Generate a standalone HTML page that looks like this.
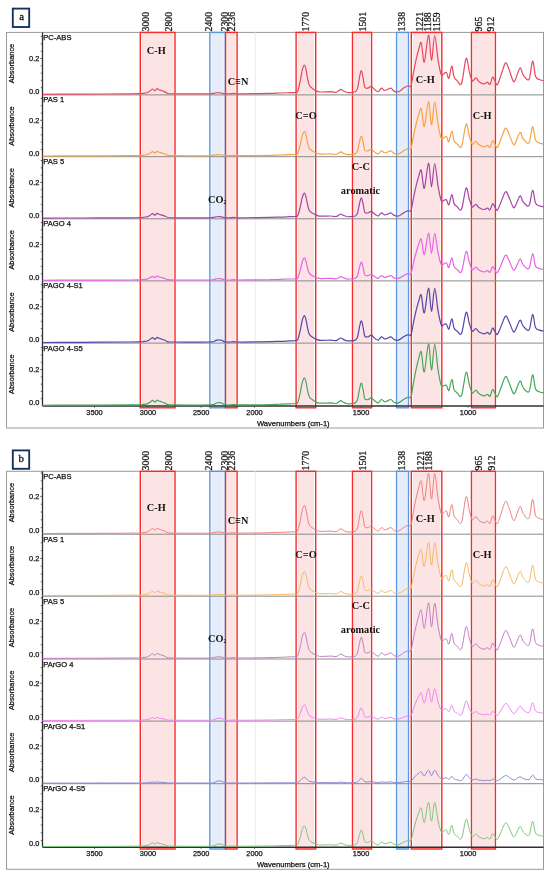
<!DOCTYPE html><html><head><meta charset="utf-8"><title>FTIR spectra</title><style>html,body{margin:0;padding:0;background:#fff;}svg{display:block;}</style></head><body><svg width="550" height="875" viewBox="0 0 550 875"><rect x="0" y="0" width="550" height="875" fill="#ffffff"/><rect x="12.8" y="8.6" width="16.4" height="18.4" fill="#fff" stroke="#15305f" stroke-width="1.85"/><text x="21.7" y="20.2" font-family="'Liberation Serif', 'Times New Roman', serif" font-size="10.8" text-anchor="middle" fill="#111" stroke="#111" stroke-width="0.3">a</text><rect x="6.5" y="32.4" width="537" height="395.6" fill="none" stroke="#999999" stroke-width="1"/><line x1="255.3" y1="32.4" x2="255.3" y2="406.0" stroke="#ececec" stroke-width="1"/><rect x="141.8" y="32.4" width="31.7" height="375.4" fill="#fde4e4"/><rect x="211.4" y="32.4" width="12.4" height="375.4" fill="#e6edf9"/><rect x="227.1" y="32.4" width="8.5" height="375.4" fill="#fde4e4"/><rect x="297.6" y="32.4" width="16.6" height="375.4" fill="#fde4e4"/><rect x="354.0" y="32.4" width="16.1" height="375.4" fill="#fde4e4"/><rect x="398.1" y="32.4" width="8.8" height="375.4" fill="#e6edf9"/><rect x="412.8" y="32.4" width="27.5" height="375.4" fill="#fde4e4"/><rect x="473.0" y="32.4" width="20.9" height="375.4" fill="#fde4e4"/><rect x="140.3" y="32.4" width="34.7" height="375.4" fill="none" stroke="#fa2a2a" stroke-width="1.4"/><rect x="209.9" y="32.4" width="15.4" height="375.4" fill="none" stroke="#5a96de" stroke-width="1.4"/><rect x="225.6" y="32.4" width="11.5" height="375.4" fill="none" stroke="#fa2a2a" stroke-width="1.4"/><rect x="296.1" y="32.4" width="19.6" height="375.4" fill="none" stroke="#fa2a2a" stroke-width="1.4"/><rect x="352.5" y="32.4" width="19.1" height="375.4" fill="none" stroke="#fa2a2a" stroke-width="1.4"/><rect x="396.6" y="32.4" width="11.8" height="375.4" fill="none" stroke="#5a96de" stroke-width="1.4"/><rect x="411.3" y="32.4" width="30.5" height="375.4" fill="none" stroke="#fa2a2a" stroke-width="1.4"/><rect x="471.5" y="32.4" width="23.9" height="375.4" fill="none" stroke="#fa2a2a" stroke-width="1.4"/><line x1="42.5" y1="94.9" x2="543.5" y2="94.9" stroke="#8a8a8a" stroke-width="1"/><line x1="42.5" y1="156.7" x2="543.5" y2="156.7" stroke="#8a8a8a" stroke-width="1"/><line x1="42.5" y1="218.8" x2="543.5" y2="218.8" stroke="#8a8a8a" stroke-width="1"/><line x1="42.5" y1="280.9" x2="543.5" y2="280.9" stroke="#8a8a8a" stroke-width="1"/><line x1="42.5" y1="343.1" x2="543.5" y2="343.1" stroke="#8a8a8a" stroke-width="1"/><line x1="42.5" y1="406.0" x2="543.5" y2="406.0" stroke="#303030" stroke-width="1.4"/><line x1="42.5" y1="32.4" x2="42.5" y2="406.0" stroke="#303030" stroke-width="1.3"/><line x1="40.7" y1="36.6" x2="42.5" y2="36.6" stroke="#444" stroke-width="0.8"/><line x1="40.7" y1="43.9" x2="42.5" y2="43.9" stroke="#444" stroke-width="0.8"/><line x1="40.7" y1="51.2" x2="42.5" y2="51.2" stroke="#444" stroke-width="0.8"/><line x1="40.1" y1="58.5" x2="42.5" y2="58.5" stroke="#444" stroke-width="0.8"/><line x1="40.7" y1="65.8" x2="42.5" y2="65.8" stroke="#444" stroke-width="0.8"/><line x1="40.7" y1="73.1" x2="42.5" y2="73.1" stroke="#444" stroke-width="0.8"/><line x1="40.7" y1="80.4" x2="42.5" y2="80.4" stroke="#444" stroke-width="0.8"/><line x1="40.7" y1="87.7" x2="42.5" y2="87.7" stroke="#444" stroke-width="0.8"/><text x="39.3" y="61.1" font-family="'Liberation Sans', Arial, sans-serif" font-size="7.4" text-anchor="end" fill="#111" stroke="#111" stroke-width="0.25">0.2</text><text x="39.3" y="93.7" font-family="'Liberation Sans', Arial, sans-serif" font-size="7.4" text-anchor="end" fill="#111" stroke="#111" stroke-width="0.25">0.0</text><text transform="translate(14.3 63.5) rotate(-90)" font-family="'Liberation Sans', Arial, sans-serif" font-size="7.4" text-anchor="middle" fill="#111" stroke="#111" stroke-width="0.25">Absorbance</text><text x="43.2" y="39.9" font-family="'Liberation Sans', Arial, sans-serif" font-size="7.6" fill="#111" stroke="#111" stroke-width="0.25">PC-ABS</text><line x1="40.7" y1="98.4" x2="42.5" y2="98.4" stroke="#444" stroke-width="0.8"/><line x1="40.7" y1="105.7" x2="42.5" y2="105.7" stroke="#444" stroke-width="0.8"/><line x1="40.7" y1="113.0" x2="42.5" y2="113.0" stroke="#444" stroke-width="0.8"/><line x1="40.1" y1="120.3" x2="42.5" y2="120.3" stroke="#444" stroke-width="0.8"/><line x1="40.7" y1="127.6" x2="42.5" y2="127.6" stroke="#444" stroke-width="0.8"/><line x1="40.7" y1="134.9" x2="42.5" y2="134.9" stroke="#444" stroke-width="0.8"/><line x1="40.7" y1="142.2" x2="42.5" y2="142.2" stroke="#444" stroke-width="0.8"/><line x1="40.7" y1="149.5" x2="42.5" y2="149.5" stroke="#444" stroke-width="0.8"/><text x="39.3" y="122.9" font-family="'Liberation Sans', Arial, sans-serif" font-size="7.4" text-anchor="end" fill="#111" stroke="#111" stroke-width="0.25">0.2</text><text x="39.3" y="155.5" font-family="'Liberation Sans', Arial, sans-serif" font-size="7.4" text-anchor="end" fill="#111" stroke="#111" stroke-width="0.25">0.0</text><text transform="translate(14.3 126.0) rotate(-90)" font-family="'Liberation Sans', Arial, sans-serif" font-size="7.4" text-anchor="middle" fill="#111" stroke="#111" stroke-width="0.25">Absorbance</text><text x="43.2" y="102.4" font-family="'Liberation Sans', Arial, sans-serif" font-size="7.6" fill="#111" stroke="#111" stroke-width="0.25">PAS 1</text><line x1="40.7" y1="160.5" x2="42.5" y2="160.5" stroke="#444" stroke-width="0.8"/><line x1="40.7" y1="167.8" x2="42.5" y2="167.8" stroke="#444" stroke-width="0.8"/><line x1="40.7" y1="175.1" x2="42.5" y2="175.1" stroke="#444" stroke-width="0.8"/><line x1="40.1" y1="182.4" x2="42.5" y2="182.4" stroke="#444" stroke-width="0.8"/><line x1="40.7" y1="189.7" x2="42.5" y2="189.7" stroke="#444" stroke-width="0.8"/><line x1="40.7" y1="197.0" x2="42.5" y2="197.0" stroke="#444" stroke-width="0.8"/><line x1="40.7" y1="204.3" x2="42.5" y2="204.3" stroke="#444" stroke-width="0.8"/><line x1="40.7" y1="211.6" x2="42.5" y2="211.6" stroke="#444" stroke-width="0.8"/><text x="39.3" y="185.0" font-family="'Liberation Sans', Arial, sans-serif" font-size="7.4" text-anchor="end" fill="#111" stroke="#111" stroke-width="0.25">0.2</text><text x="39.3" y="217.6" font-family="'Liberation Sans', Arial, sans-serif" font-size="7.4" text-anchor="end" fill="#111" stroke="#111" stroke-width="0.25">0.0</text><text transform="translate(14.3 187.8) rotate(-90)" font-family="'Liberation Sans', Arial, sans-serif" font-size="7.4" text-anchor="middle" fill="#111" stroke="#111" stroke-width="0.25">Absorbance</text><text x="43.2" y="164.2" font-family="'Liberation Sans', Arial, sans-serif" font-size="7.6" fill="#111" stroke="#111" stroke-width="0.25">PAS 5</text><line x1="40.7" y1="222.6" x2="42.5" y2="222.6" stroke="#444" stroke-width="0.8"/><line x1="40.7" y1="229.9" x2="42.5" y2="229.9" stroke="#444" stroke-width="0.8"/><line x1="40.7" y1="237.2" x2="42.5" y2="237.2" stroke="#444" stroke-width="0.8"/><line x1="40.1" y1="244.5" x2="42.5" y2="244.5" stroke="#444" stroke-width="0.8"/><line x1="40.7" y1="251.8" x2="42.5" y2="251.8" stroke="#444" stroke-width="0.8"/><line x1="40.7" y1="259.1" x2="42.5" y2="259.1" stroke="#444" stroke-width="0.8"/><line x1="40.7" y1="266.4" x2="42.5" y2="266.4" stroke="#444" stroke-width="0.8"/><line x1="40.7" y1="273.8" x2="42.5" y2="273.8" stroke="#444" stroke-width="0.8"/><text x="39.3" y="247.1" font-family="'Liberation Sans', Arial, sans-serif" font-size="7.4" text-anchor="end" fill="#111" stroke="#111" stroke-width="0.25">0.2</text><text x="39.3" y="279.8" font-family="'Liberation Sans', Arial, sans-serif" font-size="7.4" text-anchor="end" fill="#111" stroke="#111" stroke-width="0.25">0.0</text><text transform="translate(14.3 249.9) rotate(-90)" font-family="'Liberation Sans', Arial, sans-serif" font-size="7.4" text-anchor="middle" fill="#111" stroke="#111" stroke-width="0.25">Absorbance</text><text x="43.2" y="226.3" font-family="'Liberation Sans', Arial, sans-serif" font-size="7.6" fill="#111" stroke="#111" stroke-width="0.25">PAGO 4</text><line x1="40.7" y1="284.8" x2="42.5" y2="284.8" stroke="#444" stroke-width="0.8"/><line x1="40.7" y1="292.1" x2="42.5" y2="292.1" stroke="#444" stroke-width="0.8"/><line x1="40.7" y1="299.4" x2="42.5" y2="299.4" stroke="#444" stroke-width="0.8"/><line x1="40.1" y1="306.7" x2="42.5" y2="306.7" stroke="#444" stroke-width="0.8"/><line x1="40.7" y1="314.0" x2="42.5" y2="314.0" stroke="#444" stroke-width="0.8"/><line x1="40.7" y1="321.3" x2="42.5" y2="321.3" stroke="#444" stroke-width="0.8"/><line x1="40.7" y1="328.6" x2="42.5" y2="328.6" stroke="#444" stroke-width="0.8"/><line x1="40.7" y1="335.9" x2="42.5" y2="335.9" stroke="#444" stroke-width="0.8"/><text x="39.3" y="309.3" font-family="'Liberation Sans', Arial, sans-serif" font-size="7.4" text-anchor="end" fill="#111" stroke="#111" stroke-width="0.25">0.2</text><text x="39.3" y="341.9" font-family="'Liberation Sans', Arial, sans-serif" font-size="7.4" text-anchor="end" fill="#111" stroke="#111" stroke-width="0.25">0.0</text><text transform="translate(14.3 312.1) rotate(-90)" font-family="'Liberation Sans', Arial, sans-serif" font-size="7.4" text-anchor="middle" fill="#111" stroke="#111" stroke-width="0.25">Absorbance</text><text x="43.2" y="288.4" font-family="'Liberation Sans', Arial, sans-serif" font-size="7.6" fill="#111" stroke="#111" stroke-width="0.25">PAGO 4-S1</text><line x1="40.7" y1="347.7" x2="42.5" y2="347.7" stroke="#444" stroke-width="0.8"/><line x1="40.7" y1="355.0" x2="42.5" y2="355.0" stroke="#444" stroke-width="0.8"/><line x1="40.7" y1="362.3" x2="42.5" y2="362.3" stroke="#444" stroke-width="0.8"/><line x1="40.1" y1="369.6" x2="42.5" y2="369.6" stroke="#444" stroke-width="0.8"/><line x1="40.7" y1="376.9" x2="42.5" y2="376.9" stroke="#444" stroke-width="0.8"/><line x1="40.7" y1="384.2" x2="42.5" y2="384.2" stroke="#444" stroke-width="0.8"/><line x1="40.7" y1="391.5" x2="42.5" y2="391.5" stroke="#444" stroke-width="0.8"/><line x1="40.7" y1="398.8" x2="42.5" y2="398.8" stroke="#444" stroke-width="0.8"/><text x="39.3" y="372.2" font-family="'Liberation Sans', Arial, sans-serif" font-size="7.4" text-anchor="end" fill="#111" stroke="#111" stroke-width="0.25">0.2</text><text x="39.3" y="404.8" font-family="'Liberation Sans', Arial, sans-serif" font-size="7.4" text-anchor="end" fill="#111" stroke="#111" stroke-width="0.25">0.0</text><text transform="translate(14.3 374.2) rotate(-90)" font-family="'Liberation Sans', Arial, sans-serif" font-size="7.4" text-anchor="middle" fill="#111" stroke="#111" stroke-width="0.25">Absorbance</text><text x="43.2" y="350.6" font-family="'Liberation Sans', Arial, sans-serif" font-size="7.6" fill="#111" stroke="#111" stroke-width="0.25">PAGO 4-S5</text><path d="M42.5 94.3C45.4 94.3 50.4 94.2 60.0 94.1C69.6 94.1 88.3 94.1 100.0 94.0C111.7 94.0 123.3 93.9 130.0 93.8C136.7 93.8 137.8 93.8 140.0 93.7C142.2 93.6 141.8 93.5 143.0 93.3C144.2 93.1 145.8 93.1 147.0 92.7C148.2 92.3 149.1 91.5 150.0 90.9C150.9 90.3 151.9 89.0 152.7 89.0C153.5 89.0 154.2 91.0 154.9 90.9C155.6 90.9 156.3 88.9 157.0 88.7C157.7 88.5 158.2 89.4 159.0 89.7C159.8 90.0 161.0 90.3 162.0 90.7C163.0 91.1 164.0 91.4 165.0 91.9C166.0 92.4 166.3 93.2 168.0 93.5C169.7 93.8 169.7 93.7 175.0 93.8C180.3 93.9 194.2 93.9 200.0 93.9C205.8 93.9 208.0 93.9 210.0 93.8C212.0 93.7 211.3 93.7 212.0 93.6C212.7 93.5 213.3 93.4 214.0 93.3C214.7 93.2 215.3 92.9 216.0 92.8C216.7 92.7 217.3 92.6 218.0 92.6C218.7 92.6 219.3 92.7 220.0 92.8C220.7 92.8 221.3 92.9 222.0 93.1C222.7 93.2 223.3 93.5 224.0 93.6C224.7 93.8 225.0 93.8 226.0 93.8C227.0 93.8 228.7 93.9 230.0 93.8C231.3 93.7 232.7 93.4 234.0 93.4C235.3 93.4 234.5 93.8 238.0 93.8C241.5 93.9 249.7 93.8 255.0 93.7C260.3 93.6 265.8 93.5 270.0 93.4C274.2 93.3 276.7 93.1 280.0 93.0C283.3 92.9 287.4 92.7 290.0 92.6C292.6 92.5 294.0 92.6 295.3 92.3C296.6 92.1 297.0 93.1 297.8 91.1C298.6 89.1 299.6 83.8 300.4 80.3C301.1 76.8 301.6 72.6 302.3 70.1C303.0 67.6 303.8 65.2 304.4 65.2C305.0 65.2 305.6 68.0 306.1 70.1C306.6 72.2 306.9 75.2 307.4 77.7C307.9 80.2 308.4 83.4 309.3 85.3C310.2 87.2 311.8 87.9 313.1 88.9C314.4 89.9 315.6 90.6 316.9 91.1C318.2 91.6 318.4 91.9 320.7 92.0C323.0 92.1 328.3 91.7 330.9 91.7C333.4 91.8 334.7 92.5 336.0 92.3C337.3 92.2 337.7 91.3 338.5 90.8C339.3 90.3 340.0 89.4 340.8 89.4C341.6 89.4 342.4 90.4 343.3 90.9C344.2 91.4 345.2 92.0 346.2 92.3C347.2 92.6 348.0 92.7 349.5 92.6C351.0 92.5 354.0 92.4 355.3 91.7C356.6 91.0 356.8 90.7 357.5 88.3C358.2 85.9 358.9 80.2 359.5 77.3C360.1 74.4 360.8 70.5 361.4 70.7C362.0 70.9 362.6 75.5 363.2 78.3C363.8 81.1 364.0 85.7 364.8 87.3C365.6 88.9 366.9 88.3 368.0 88.1C369.1 88.0 370.0 86.1 371.2 86.4C372.4 86.7 373.8 88.9 375.0 89.8C376.2 90.7 377.1 92.0 378.2 91.7C379.3 91.4 380.4 88.3 381.4 88.1C382.4 87.9 383.4 90.1 384.3 90.4C385.2 90.7 386.0 90.2 387.1 89.8C388.2 89.4 389.7 87.9 390.9 88.1C392.1 88.3 392.8 90.5 394.1 91.1C395.4 91.7 396.9 92.2 398.5 91.7C400.1 91.2 402.1 89.1 403.6 88.1C405.1 87.2 406.4 86.3 407.5 86.0C408.6 85.7 409.5 86.5 410.1 86.4C410.7 86.4 410.7 87.6 411.2 85.7C411.7 83.9 412.4 78.8 413.0 75.3C413.6 71.8 414.3 68.1 415.0 64.8C415.7 61.6 416.3 58.6 417.0 55.8C417.7 53.1 418.3 50.5 419.0 48.3C419.7 46.2 420.4 40.6 421.3 42.9C422.2 45.2 423.1 63.4 424.3 62.1C425.5 60.8 427.3 35.4 428.5 35.1C429.7 34.8 430.5 60.4 431.5 60.5C432.5 60.6 433.6 35.5 434.7 35.5C435.8 35.5 437.0 53.7 438.1 60.3C439.2 66.9 440.5 72.8 441.3 75.1C442.1 77.4 442.4 74.8 443.2 74.3C444.0 73.9 445.4 71.8 446.4 72.4C447.3 73.1 448.0 79.3 448.9 78.2C449.8 77.2 450.9 66.3 451.8 66.1C452.7 65.9 453.1 74.5 454.0 76.9C454.9 79.3 455.9 79.6 457.2 80.7C458.5 81.8 460.1 87.0 461.6 83.3C463.1 79.6 464.8 60.3 466.1 58.4C467.4 56.5 468.4 68.2 469.3 71.8C470.2 75.4 471.2 78.6 471.8 80.1C472.4 81.6 472.3 81.1 473.0 80.7C473.7 80.3 474.9 77.7 475.9 77.8C476.9 77.9 477.5 80.4 478.8 81.4C480.1 82.4 482.4 83.8 483.9 83.9C485.3 84.0 486.5 82.1 487.5 82.2C488.5 82.3 489.1 85.2 490.0 84.3C490.9 83.5 491.8 77.7 492.6 77.1C493.4 76.5 494.0 79.4 494.8 80.7C495.6 82.0 496.3 85.5 497.3 84.8C498.3 84.1 499.2 79.9 500.6 76.3C502.0 72.7 504.1 64.3 505.4 63.0C506.7 61.7 507.3 65.4 508.6 68.3C509.9 71.3 511.9 78.8 513.0 80.7C514.1 82.7 514.0 82.1 515.2 80.0C516.4 77.9 518.7 68.8 520.0 67.9C521.3 67.1 521.7 73.0 523.2 74.9C524.7 76.8 527.4 81.6 529.0 79.3C530.6 77.0 531.5 61.6 532.6 61.1C533.7 60.6 534.4 73.2 535.5 76.3C536.6 79.4 537.9 78.8 539.2 79.5C540.5 80.2 542.8 80.5 543.5 80.7" fill="none" stroke="#e8485e" stroke-width="1.20" stroke-linejoin="round"/><path d="M42.5 156.1C45.4 156.1 50.4 156.0 60.0 155.9C69.6 155.9 88.3 155.9 100.0 155.8C111.7 155.8 123.3 155.7 130.0 155.7C136.7 155.6 137.8 155.7 140.0 155.6C142.2 155.5 141.8 155.4 143.0 155.2C144.2 155.1 145.8 155.1 147.0 154.7C148.2 154.4 149.1 153.7 150.0 153.2C150.9 152.7 151.9 151.6 152.7 151.6C153.5 151.6 154.2 153.3 154.9 153.2C155.6 153.2 156.3 151.5 157.0 151.3C157.7 151.2 158.2 151.9 159.0 152.2C159.8 152.5 161.0 152.7 162.0 153.0C163.0 153.4 164.0 153.7 165.0 154.1C166.0 154.5 166.3 155.2 168.0 155.4C169.7 155.7 169.7 155.6 175.0 155.7C180.3 155.7 194.2 155.8 200.0 155.8C205.8 155.8 208.0 155.7 210.0 155.7C212.0 155.6 211.3 155.6 212.0 155.5C212.7 155.4 213.3 155.3 214.0 155.2C214.7 155.1 215.3 154.9 216.0 154.8C216.7 154.7 217.3 154.7 218.0 154.6C218.7 154.6 219.3 154.7 220.0 154.8C220.7 154.8 221.3 154.9 222.0 155.0C222.7 155.1 223.3 155.4 224.0 155.5C224.7 155.6 225.0 155.6 226.0 155.7C227.0 155.7 228.7 155.7 230.0 155.7C231.3 155.6 232.7 155.3 234.0 155.3C235.3 155.3 234.5 155.6 238.0 155.7C241.5 155.7 249.7 155.6 255.0 155.6C260.3 155.5 265.8 155.4 270.0 155.3C274.2 155.2 276.7 155.1 280.0 155.0C283.3 154.9 287.4 154.8 290.0 154.7C292.6 154.6 294.0 154.6 295.3 154.4C296.6 154.2 297.0 155.1 297.8 153.4C298.6 151.7 299.6 147.2 300.4 144.2C301.1 141.2 301.6 137.7 302.3 135.5C303.0 133.4 303.8 131.4 304.4 131.4C305.0 131.4 305.6 133.8 306.1 135.5C306.6 137.3 306.9 139.8 307.4 142.0C307.9 144.1 308.4 146.9 309.3 148.4C310.2 150.0 311.8 150.7 313.1 151.5C314.4 152.3 315.6 152.9 316.9 153.4C318.2 153.8 318.4 154.1 320.7 154.1C323.0 154.2 328.3 153.8 330.9 153.9C333.4 153.9 334.7 154.5 336.0 154.4C337.3 154.3 337.7 153.5 338.5 153.1C339.3 152.7 340.0 151.9 340.8 151.9C341.6 151.9 342.4 152.8 343.3 153.2C344.2 153.6 345.2 154.2 346.2 154.4C347.2 154.6 348.0 154.7 349.5 154.7C351.0 154.6 354.0 154.5 355.3 153.9C356.6 153.3 356.8 153.0 357.5 151.0C358.2 149.0 358.9 144.1 359.5 141.7C360.1 139.2 360.8 135.9 361.4 136.0C362.0 136.2 362.6 140.1 363.2 142.5C363.8 144.9 364.0 148.8 364.8 150.2C365.6 151.5 366.9 151.0 368.0 150.8C369.1 150.7 370.0 149.1 371.2 149.4C372.4 149.6 373.8 151.5 375.0 152.3C376.2 153.0 377.1 154.1 378.2 153.9C379.3 153.6 380.4 151.0 381.4 150.8C382.4 150.6 383.4 152.5 384.3 152.8C385.2 153.0 386.0 152.6 387.1 152.3C388.2 151.9 389.7 150.6 390.9 150.8C392.1 151.0 392.8 152.9 394.1 153.4C395.4 153.9 396.9 154.3 398.5 153.9C400.1 153.5 402.1 151.7 403.6 150.8C405.1 150.0 406.4 149.2 407.5 148.9C408.6 148.6 409.5 149.2 410.1 149.1C410.7 149.0 410.7 150.1 411.2 148.3C411.7 146.6 412.4 141.9 413.0 138.6C413.6 135.4 414.3 131.9 415.0 129.0C415.7 126.0 416.3 123.2 417.0 120.7C417.7 118.1 418.3 115.8 419.0 113.8C419.7 111.8 420.4 106.7 421.3 108.8C422.2 110.9 423.1 127.7 424.3 126.5C425.5 125.3 427.3 101.9 428.5 101.6C429.7 101.4 430.5 124.9 431.5 125.0C432.5 125.1 433.6 102.0 434.7 102.0C435.8 102.0 437.0 118.7 438.1 124.8C439.2 130.9 440.5 136.4 441.3 138.6C442.1 140.8 442.4 138.3 443.2 138.0C444.0 137.7 445.4 136.0 446.4 136.6C447.3 137.2 448.0 142.7 448.9 141.8C449.8 140.8 450.9 131.2 451.8 131.0C452.7 130.8 453.1 138.4 454.0 140.6C454.9 142.8 455.9 143.0 457.2 144.0C458.5 144.9 460.1 149.6 461.6 146.3C463.1 143.0 464.8 125.9 466.1 124.1C467.4 122.4 468.4 132.9 469.3 136.1C470.2 139.3 471.2 142.1 471.8 143.5C472.4 144.8 472.3 144.3 473.0 144.0C473.7 143.7 474.9 141.3 475.9 141.4C476.9 141.5 477.5 143.7 478.8 144.6C480.1 145.5 482.4 146.7 483.9 146.8C485.3 147.0 486.5 145.3 487.5 145.3C488.5 145.4 489.1 148.0 490.0 147.2C490.9 146.4 491.8 141.3 492.6 140.8C493.4 140.3 494.0 142.9 494.8 144.0C495.6 145.1 496.3 148.3 497.3 147.6C498.3 147.0 499.2 143.3 500.6 140.1C502.0 136.8 504.1 129.4 505.4 128.2C506.7 127.1 507.3 130.3 508.6 133.0C509.9 135.6 511.9 142.3 513.0 144.0C514.1 145.7 514.0 145.3 515.2 143.4C516.4 141.5 518.7 133.4 520.0 132.6C521.3 131.8 521.7 137.1 523.2 138.8C524.7 140.5 527.4 144.8 529.0 142.8C530.6 140.7 531.5 127.0 532.6 126.6C533.7 126.1 534.4 137.4 535.5 140.1C536.6 142.8 537.9 142.3 539.2 142.9C540.5 143.6 542.8 143.8 543.5 144.0" fill="none" stroke="#f4a444" stroke-width="1.20" stroke-linejoin="round"/><path d="M42.5 218.2C45.4 218.2 50.4 218.1 60.0 218.0C69.6 218.0 88.3 218.0 100.0 217.9C111.7 217.9 123.3 217.8 130.0 217.8C136.7 217.7 137.8 217.8 140.0 217.7C142.2 217.6 141.8 217.5 143.0 217.3C144.2 217.2 145.8 217.2 147.0 216.8C148.2 216.5 149.1 215.8 150.0 215.3C150.9 214.7 151.9 213.6 152.7 213.6C153.5 213.6 154.2 215.3 154.9 215.3C155.6 215.2 156.3 213.6 157.0 213.4C157.7 213.2 158.2 214.0 159.0 214.2C159.8 214.5 161.0 214.8 162.0 215.1C163.0 215.4 164.0 215.7 165.0 216.1C166.0 216.5 166.3 217.2 168.0 217.5C169.7 217.8 169.7 217.7 175.0 217.8C180.3 217.8 194.2 217.9 200.0 217.9C205.8 217.9 208.0 217.8 210.0 217.8C212.0 217.7 211.3 217.7 212.0 217.6C212.7 217.5 213.3 217.4 214.0 217.3C214.7 217.2 215.3 216.9 216.0 216.8C216.7 216.7 217.3 216.6 218.0 216.6C218.7 216.5 219.3 216.6 220.0 216.7C220.7 216.8 221.3 216.8 222.0 216.9C222.7 217.1 223.3 217.4 224.0 217.6C224.7 217.7 225.0 217.7 226.0 217.8C227.0 217.8 228.7 217.8 230.0 217.8C231.3 217.7 232.7 217.4 234.0 217.4C235.3 217.4 234.5 217.7 238.0 217.8C241.5 217.8 249.7 217.7 255.0 217.7C260.3 217.6 265.8 217.5 270.0 217.4C274.2 217.3 276.7 217.2 280.0 217.1C283.3 217.0 287.4 216.8 290.0 216.7C292.6 216.6 294.0 216.7 295.3 216.5C296.6 216.3 297.0 217.2 297.8 215.4C298.6 213.7 299.6 209.2 300.4 206.2C301.1 203.2 301.6 199.6 302.3 197.4C303.0 195.2 303.8 193.2 304.4 193.2C305.0 193.2 305.6 195.6 306.1 197.4C306.6 199.2 306.9 201.7 307.4 203.9C307.9 206.1 308.4 208.9 309.3 210.5C310.2 212.1 311.8 212.7 313.1 213.6C314.4 214.4 315.6 215.0 316.9 215.4C318.2 215.9 318.4 216.1 320.7 216.2C323.0 216.3 328.3 215.9 330.9 216.0C333.4 216.0 334.7 216.6 336.0 216.5C337.3 216.4 337.7 215.6 338.5 215.2C339.3 214.8 340.0 214.0 340.8 214.0C341.6 214.0 342.4 214.9 343.3 215.3C344.2 215.7 345.2 216.2 346.2 216.5C347.2 216.7 348.0 216.8 349.5 216.7C351.0 216.7 354.0 216.6 355.3 216.0C356.6 215.3 356.8 215.1 357.5 213.0C358.2 211.0 358.9 206.1 359.5 203.6C360.1 201.1 360.8 197.8 361.4 197.9C362.0 198.0 362.6 202.1 363.2 204.4C363.8 206.8 364.0 210.8 364.8 212.2C365.6 213.6 366.9 213.0 368.0 212.9C369.1 212.7 370.0 211.2 371.2 211.4C372.4 211.6 373.8 213.6 375.0 214.3C376.2 215.1 377.1 216.2 378.2 216.0C379.3 215.7 380.4 213.1 381.4 212.9C382.4 212.7 383.4 214.6 384.3 214.8C385.2 215.1 386.0 214.7 387.1 214.3C388.2 214.0 389.7 212.7 390.9 212.9C392.1 213.1 392.8 214.9 394.1 215.4C395.4 216.0 396.9 216.4 398.5 216.0C400.1 215.5 402.1 213.7 403.6 212.9C405.1 212.0 406.4 211.2 407.5 210.9C408.6 210.6 409.5 211.2 410.1 211.1C410.7 211.0 410.7 212.1 411.2 210.4C411.7 208.6 412.4 203.8 413.0 200.5C413.6 197.3 414.3 193.8 415.0 190.8C415.7 187.7 416.3 185.0 417.0 182.4C417.7 179.8 418.3 177.4 419.0 175.4C419.7 173.4 420.4 168.3 421.3 170.4C422.2 172.5 423.1 189.5 424.3 188.3C425.5 187.0 427.3 163.4 428.5 163.1C429.7 162.9 430.5 186.7 431.5 186.8C432.5 186.8 433.6 163.5 434.7 163.5C435.8 163.5 437.0 180.4 438.1 186.6C439.2 192.8 440.5 198.4 441.3 200.7C442.1 203.0 442.4 200.7 443.2 200.6C444.0 200.4 445.4 199.1 446.4 199.8C447.3 200.5 448.0 205.6 448.9 204.7C449.8 203.8 450.9 194.7 451.8 194.5C452.7 194.3 453.1 201.5 454.0 203.6C454.9 205.6 455.9 205.9 457.2 206.8C458.5 207.7 460.1 212.1 461.6 209.0C463.1 205.8 464.8 189.7 466.1 188.0C467.4 186.4 468.4 196.3 469.3 199.3C470.2 202.3 471.2 205.0 471.8 206.3C472.4 207.5 472.3 207.1 473.0 206.8C473.7 206.5 474.9 204.2 475.9 204.3C476.9 204.4 477.5 206.5 478.8 207.4C480.1 208.2 482.4 209.4 483.9 209.5C485.3 209.6 486.5 208.0 487.5 208.0C488.5 208.1 489.1 210.5 490.0 209.8C490.9 209.1 491.8 204.3 492.6 203.8C493.4 203.2 494.0 205.7 494.8 206.8C495.6 207.9 496.3 210.8 497.3 210.2C498.3 209.6 499.2 206.1 500.6 203.1C502.0 200.0 504.1 193.0 505.4 191.9C506.7 190.8 507.3 193.9 508.6 196.4C509.9 198.8 511.9 205.1 513.0 206.8C514.1 208.4 514.0 208.0 515.2 206.2C516.4 204.4 518.7 196.7 520.0 196.0C521.3 195.3 521.7 200.3 523.2 201.9C524.7 203.5 527.4 207.5 529.0 205.6C530.6 203.7 531.5 190.7 532.6 190.3C533.7 189.9 534.4 200.5 535.5 203.1C536.6 205.7 537.9 205.2 539.2 205.8C540.5 206.4 542.8 206.6 543.5 206.8" fill="none" stroke="#a344a6" stroke-width="1.20" stroke-linejoin="round"/><path d="M42.5 280.3C45.4 280.3 50.4 280.2 60.0 280.2C69.6 280.2 88.3 280.2 100.0 280.1C111.7 280.1 123.3 280.0 130.0 280.0C136.7 279.9 137.8 280.0 140.0 279.9C142.2 279.8 141.8 279.7 143.0 279.6C144.2 279.5 145.8 279.4 147.0 279.1C148.2 278.8 149.1 278.2 150.0 277.7C150.9 277.3 151.9 276.3 152.7 276.3C153.5 276.3 154.2 277.8 154.9 277.7C155.6 277.7 156.3 276.2 157.0 276.0C157.7 275.9 158.2 276.6 159.0 276.8C159.8 277.1 161.0 277.3 162.0 277.6C163.0 277.9 164.0 278.1 165.0 278.5C166.0 278.9 166.3 279.5 168.0 279.7C169.7 280.0 169.7 279.9 175.0 280.0C180.3 280.0 194.2 280.0 200.0 280.0C205.8 280.0 208.0 280.0 210.0 280.0C212.0 279.9 211.3 279.9 212.0 279.8C212.7 279.7 213.3 279.7 214.0 279.5C214.7 279.4 215.3 279.1 216.0 278.9C216.7 278.8 217.3 278.6 218.0 278.6C218.7 278.5 219.3 278.7 220.0 278.7C220.7 278.8 221.3 278.8 222.0 278.9C222.7 279.1 223.3 279.5 224.0 279.7C224.7 279.9 225.0 279.9 226.0 280.0C227.0 280.0 228.7 280.0 230.0 280.0C231.3 279.9 232.7 279.7 234.0 279.7C235.3 279.7 234.5 279.9 238.0 280.0C241.5 280.0 249.7 279.9 255.0 279.9C260.3 279.8 265.8 279.7 270.0 279.7C274.2 279.6 276.7 279.5 280.0 279.3C283.3 279.2 287.4 279.1 290.0 279.0C292.6 279.0 294.0 279.0 295.3 278.8C296.6 278.6 297.0 279.4 297.8 277.9C298.6 276.3 299.6 272.3 300.4 269.6C301.1 266.9 301.6 263.7 302.3 261.7C303.0 259.8 303.8 257.9 304.4 257.9C305.0 257.9 305.6 260.1 306.1 261.7C306.6 263.3 306.9 265.6 307.4 267.6C307.9 269.5 308.4 272.0 309.3 273.4C310.2 274.9 311.8 275.4 313.1 276.2C314.4 276.9 315.6 277.5 316.9 277.9C318.2 278.3 318.4 278.5 320.7 278.6C323.0 278.7 328.3 278.3 330.9 278.3C333.4 278.4 334.7 278.9 336.0 278.8C337.3 278.7 337.7 278.0 338.5 277.7C339.3 277.3 340.0 276.6 340.8 276.6C341.6 276.6 342.4 277.4 343.3 277.7C344.2 278.1 345.2 278.6 346.2 278.8C347.2 279.0 348.0 279.1 349.5 279.0C351.0 279.0 354.0 278.9 355.3 278.3C356.6 277.8 356.8 277.6 357.5 275.7C358.2 273.9 358.9 269.5 359.5 267.3C360.1 265.0 360.8 262.0 361.4 262.2C362.0 262.3 362.6 265.9 363.2 268.0C363.8 270.2 364.0 273.7 364.8 275.0C365.6 276.2 366.9 275.7 368.0 275.6C369.1 275.5 370.0 274.0 371.2 274.3C372.4 274.5 373.8 276.2 375.0 276.9C376.2 277.6 377.1 278.6 378.2 278.3C379.3 278.1 380.4 275.7 381.4 275.6C382.4 275.4 383.4 277.1 384.3 277.3C385.2 277.6 386.0 277.2 387.1 276.9C388.2 276.6 389.7 275.4 390.9 275.6C392.1 275.7 392.8 277.4 394.1 277.9C395.4 278.3 396.9 278.7 398.5 278.3C400.1 278.0 402.1 276.3 403.6 275.6C405.1 274.8 406.4 274.1 407.5 273.9C408.6 273.7 409.5 274.2 410.1 274.1C410.7 274.1 410.7 275.0 411.2 273.5C411.7 272.0 412.4 267.9 413.0 265.1C413.6 262.4 414.3 259.3 415.0 256.7C415.7 254.1 416.3 251.7 417.0 249.5C417.7 247.3 418.3 245.3 419.0 243.5C419.7 241.8 420.4 237.4 421.3 239.2C422.2 241.1 423.1 255.6 424.3 254.6C425.5 253.5 427.3 233.2 428.5 233.0C429.7 232.8 430.5 253.3 431.5 253.3C432.5 253.4 433.6 233.3 434.7 233.3C435.8 233.3 437.0 247.9 438.1 253.1C439.2 258.4 440.5 263.1 441.3 265.0C442.1 266.9 442.4 264.7 443.2 264.3C444.0 264.0 445.4 262.3 446.4 262.8C447.3 263.3 448.0 268.3 448.9 267.5C449.8 266.6 450.9 258.0 451.8 257.8C452.7 257.6 453.1 264.5 454.0 266.4C454.9 268.4 455.9 268.6 457.2 269.5C458.5 270.3 460.1 274.5 461.6 271.5C463.1 268.6 464.8 253.2 466.1 251.6C467.4 250.1 468.4 259.5 469.3 262.3C470.2 265.2 471.2 267.8 471.8 269.0C472.4 270.2 472.3 269.8 473.0 269.5C473.7 269.2 474.9 267.1 475.9 267.1C476.9 267.2 477.5 269.2 478.8 270.0C480.1 270.8 482.4 271.9 483.9 272.0C485.3 272.1 486.5 270.6 487.5 270.7C488.5 270.7 489.1 273.0 490.0 272.3C490.9 271.7 491.8 267.1 492.6 266.6C493.4 266.1 494.0 268.4 494.8 269.5C495.6 270.5 496.3 273.3 497.3 272.7C498.3 272.2 499.2 268.9 500.6 265.9C502.0 263.0 504.1 256.4 505.4 255.3C506.7 254.2 507.3 257.2 508.6 259.5C509.9 261.9 511.9 267.9 513.0 269.5C514.1 271.0 514.0 270.6 515.2 268.9C516.4 267.2 518.7 259.9 520.0 259.2C521.3 258.5 521.7 263.3 523.2 264.8C524.7 266.3 527.4 270.2 529.0 268.3C530.6 266.5 531.5 254.2 532.6 253.8C533.7 253.4 534.4 263.5 535.5 265.9C536.6 268.4 537.9 267.9 539.2 268.5C540.5 269.1 542.8 269.3 543.5 269.5" fill="none" stroke="#e864e8" stroke-width="1.20" stroke-linejoin="round"/><path d="M42.5 342.5C45.4 342.5 50.4 342.4 60.0 342.3C69.6 342.3 88.3 342.3 100.0 342.2C111.7 342.2 123.3 342.1 130.0 342.0C136.7 342.0 137.8 342.0 140.0 341.9C142.2 341.9 141.8 341.7 143.0 341.6C144.2 341.4 145.8 341.4 147.0 341.0C148.2 340.7 149.1 339.9 150.0 339.4C150.9 338.8 151.9 337.6 152.7 337.6C153.5 337.6 154.2 339.4 154.9 339.4C155.6 339.3 156.3 337.5 157.0 337.3C157.7 337.2 158.2 338.0 159.0 338.3C159.8 338.6 161.0 338.9 162.0 339.2C163.0 339.5 164.0 339.9 165.0 340.3C166.0 340.7 166.3 341.5 168.0 341.8C169.7 342.1 169.7 342.0 175.0 342.0C180.3 342.1 194.2 342.1 200.0 342.1C205.8 342.1 208.0 342.1 210.0 342.0C212.0 342.0 211.3 341.9 212.0 341.9C212.7 341.8 213.3 341.7 214.0 341.5C214.7 341.2 215.3 340.7 216.0 340.4C216.7 340.2 217.3 339.9 218.0 339.8C218.7 339.8 219.3 340.0 220.0 340.1C220.7 340.2 221.3 340.0 222.0 340.3C222.7 340.5 223.3 341.3 224.0 341.6C224.7 341.9 225.0 341.9 226.0 342.0C227.0 342.1 228.7 342.1 230.0 342.0C231.3 342.0 232.7 341.7 234.0 341.7C235.3 341.7 234.5 342.0 238.0 342.0C241.5 342.1 249.7 342.0 255.0 341.9C260.3 341.9 265.8 341.8 270.0 341.7C274.2 341.6 276.7 341.4 280.0 341.3C283.3 341.2 287.4 341.0 290.0 340.9C292.6 340.8 294.0 340.9 295.3 340.7C296.6 340.4 297.0 341.4 297.8 339.6C298.6 337.7 299.6 332.8 300.4 329.6C301.1 326.4 301.6 322.6 302.3 320.2C303.0 317.9 303.8 315.7 304.4 315.7C305.0 315.7 305.6 318.3 306.1 320.2C306.6 322.2 306.9 324.9 307.4 327.2C307.9 329.6 308.4 332.5 309.3 334.2C310.2 335.9 311.8 336.6 313.1 337.5C314.4 338.4 315.6 339.1 316.9 339.6C318.2 340.0 318.4 340.3 320.7 340.4C323.0 340.5 328.3 340.1 330.9 340.1C333.4 340.2 334.7 340.8 336.0 340.7C337.3 340.5 337.7 339.7 338.5 339.3C339.3 338.8 340.0 338.0 340.8 338.0C341.6 338.0 342.4 338.9 343.3 339.4C344.2 339.8 345.2 340.4 346.2 340.7C347.2 340.9 348.0 341.0 349.5 340.9C351.0 340.8 354.0 340.8 355.3 340.1C356.6 339.4 356.8 339.2 357.5 337.0C358.2 334.8 358.9 329.6 359.5 326.9C360.1 324.2 360.8 320.6 361.4 320.8C362.0 320.9 362.6 325.2 363.2 327.8C363.8 330.3 364.0 334.6 364.8 336.1C365.6 337.6 366.9 336.9 368.0 336.8C369.1 336.7 370.0 335.0 371.2 335.2C372.4 335.5 373.8 337.5 375.0 338.4C376.2 339.2 377.1 340.4 378.2 340.1C379.3 339.8 380.4 337.0 381.4 336.8C382.4 336.6 383.4 338.7 384.3 338.9C385.2 339.2 386.0 338.7 387.1 338.4C388.2 338.0 389.7 336.6 390.9 336.8C392.1 337.0 392.8 339.0 394.1 339.6C395.4 340.1 396.9 340.6 398.5 340.1C400.1 339.6 402.1 337.7 403.6 336.8C405.1 335.9 406.4 335.1 407.5 334.9C408.6 334.6 409.5 335.3 410.1 335.2C410.7 335.2 410.7 336.3 411.2 334.6C411.7 332.9 412.4 328.2 413.0 325.0C413.6 321.8 414.3 318.4 415.0 315.4C415.7 312.4 416.3 309.6 417.0 307.1C417.7 304.5 418.3 302.2 419.0 300.2C419.7 298.2 420.4 293.1 421.3 295.2C422.2 297.3 423.1 314.1 424.3 312.9C425.5 311.7 427.3 288.3 428.5 288.0C429.7 287.8 430.5 311.3 431.5 311.4C432.5 311.5 433.6 288.4 434.7 288.4C435.8 288.4 437.0 305.1 438.1 311.2C439.2 317.3 440.5 322.9 441.3 325.2C442.1 327.5 442.4 325.1 443.2 325.0C444.0 324.8 445.4 323.4 446.4 324.1C447.3 324.8 448.0 329.9 448.9 329.0C449.8 328.1 450.9 319.0 451.8 318.8C452.7 318.6 453.1 325.8 454.0 327.9C454.9 329.9 455.9 330.2 457.2 331.1C458.5 332.0 460.1 336.4 461.6 333.3C463.1 330.1 464.8 314.0 466.1 312.3C467.4 310.7 468.4 320.6 469.3 323.6C470.2 326.6 471.2 329.3 471.8 330.6C472.4 331.8 472.3 331.4 473.0 331.1C473.7 330.8 474.9 328.5 475.9 328.6C476.9 328.7 477.5 330.8 478.8 331.7C480.1 332.5 482.4 333.7 483.9 333.8C485.3 333.9 486.5 332.3 487.5 332.3C488.5 332.4 489.1 334.8 490.0 334.1C490.9 333.4 491.8 328.6 492.6 328.1C493.4 327.5 494.0 330.0 494.8 331.1C495.6 332.2 496.3 335.1 497.3 334.5C498.3 333.9 499.2 330.4 500.6 327.4C502.0 324.3 504.1 317.3 505.4 316.2C506.7 315.1 507.3 318.2 508.6 320.7C509.9 323.1 511.9 329.4 513.0 331.1C514.1 332.7 514.0 332.3 515.2 330.5C516.4 328.7 518.7 321.0 520.0 320.3C521.3 319.6 521.7 324.6 523.2 326.2C524.7 327.8 527.4 331.8 529.0 329.9C530.6 328.0 531.5 315.0 532.6 314.6C533.7 314.2 534.4 324.8 535.5 327.4C536.6 330.0 537.9 329.5 539.2 330.1C540.5 330.7 542.8 330.9 543.5 331.1" fill="none" stroke="#5646a6" stroke-width="1.20" stroke-linejoin="round"/><path d="M42.5 405.4C45.4 405.4 50.4 405.3 60.0 405.2C69.6 405.2 88.3 405.2 100.0 405.1C111.7 405.1 123.3 405.0 130.0 404.9C136.7 404.9 137.8 404.9 140.0 404.8C142.2 404.8 141.8 404.6 143.0 404.4C144.2 404.3 145.8 404.3 147.0 403.9C148.2 403.5 149.1 402.8 150.0 402.2C150.9 401.6 151.9 400.4 152.7 400.4C153.5 400.4 154.2 402.2 154.9 402.2C155.6 402.1 156.3 400.3 157.0 400.1C157.7 399.9 158.2 400.7 159.0 401.0C159.8 401.3 161.0 401.6 162.0 402.0C163.0 402.3 164.0 402.7 165.0 403.1C166.0 403.6 166.3 404.3 168.0 404.6C169.7 404.9 169.7 404.9 175.0 404.9C180.3 405.0 194.2 405.0 200.0 405.0C205.8 405.0 208.0 405.0 210.0 404.9C212.0 404.9 211.3 404.8 212.0 404.7C212.7 404.6 213.3 404.6 214.0 404.3C214.7 404.1 215.3 403.5 216.0 403.2C216.7 402.9 217.3 402.6 218.0 402.5C218.7 402.4 219.3 402.7 220.0 402.8C220.7 402.9 221.3 402.7 222.0 403.0C222.7 403.2 223.3 404.1 224.0 404.4C224.7 404.7 225.0 404.8 226.0 404.9C227.0 405.0 228.7 405.0 230.0 404.9C231.3 404.9 232.7 404.5 234.0 404.5C235.3 404.5 234.5 404.9 238.0 404.9C241.5 405.0 249.7 404.9 255.0 404.8C260.3 404.8 265.8 404.7 270.0 404.5C274.2 404.4 276.7 404.3 280.0 404.2C283.3 404.0 287.4 403.9 290.0 403.8C292.6 403.7 294.0 403.7 295.3 403.5C296.6 403.3 297.0 404.3 297.8 402.4C298.6 400.5 299.6 395.4 300.4 392.1C301.1 388.8 301.6 384.8 302.3 382.4C303.0 380.0 303.8 377.8 304.4 377.8C305.0 377.8 305.6 380.4 306.1 382.4C306.6 384.4 306.9 387.2 307.4 389.6C307.9 392.0 308.4 395.1 309.3 396.8C310.2 398.6 311.8 399.4 313.1 400.3C314.4 401.2 315.6 401.9 316.9 402.4C318.2 402.9 318.4 403.1 320.7 403.2C323.0 403.3 328.3 402.9 330.9 402.9C333.4 403.0 334.7 403.6 336.0 403.5C337.3 403.4 337.7 402.5 338.5 402.1C339.3 401.6 340.0 400.7 340.8 400.7C341.6 400.8 342.4 401.7 343.3 402.2C344.2 402.6 345.2 403.2 346.2 403.5C347.2 403.8 348.0 403.9 349.5 403.8C351.0 403.7 354.0 403.6 355.3 402.9C356.6 402.2 356.8 402.0 357.5 399.7C358.2 397.4 358.9 392.0 359.5 389.2C360.1 386.5 360.8 382.8 361.4 383.0C362.0 383.1 362.6 387.6 363.2 390.2C363.8 392.8 364.0 397.2 364.8 398.8C365.6 400.3 366.9 399.7 368.0 399.5C369.1 399.4 370.0 397.6 371.2 397.9C372.4 398.2 373.8 400.3 375.0 401.1C376.2 402.0 377.1 403.2 378.2 402.9C379.3 402.7 380.4 399.7 381.4 399.5C382.4 399.3 383.4 401.4 384.3 401.7C385.2 402.0 386.0 401.5 387.1 401.1C388.2 400.8 389.7 399.3 390.9 399.5C392.1 399.7 392.8 401.8 394.1 402.4C395.4 402.9 396.9 403.4 398.5 402.9C400.1 402.5 402.1 400.4 403.6 399.5C405.1 398.6 406.4 397.7 407.5 397.4C408.6 397.0 409.5 397.6 410.1 397.5C410.7 397.4 410.7 398.6 411.2 396.7C411.7 394.7 412.4 389.3 413.0 385.6C413.6 382.0 414.3 378.1 415.0 374.7C415.7 371.3 416.3 368.2 417.0 365.4C417.7 362.5 418.3 359.8 419.0 357.6C419.7 355.3 420.4 349.6 421.3 351.9C422.2 354.3 423.1 373.3 424.3 371.9C425.5 370.6 427.3 344.1 428.5 343.8C429.7 343.6 430.5 370.2 431.5 370.2C432.5 370.3 433.6 344.3 434.7 344.2C435.8 344.2 437.0 363.1 438.1 370.0C439.2 377.0 440.5 383.3 441.3 385.9C442.1 388.6 442.4 386.0 443.2 385.9C444.0 385.8 445.4 384.5 446.4 385.3C447.3 386.0 448.0 391.6 448.9 390.6C449.8 389.6 450.9 379.7 451.8 379.5C452.7 379.3 453.1 387.2 454.0 389.4C454.9 391.6 455.9 391.9 457.2 392.9C458.5 393.9 460.1 398.7 461.6 395.3C463.1 391.9 464.8 374.1 466.1 372.4C467.4 370.6 468.4 381.4 469.3 384.7C470.2 388.0 471.2 391.0 471.8 392.3C472.4 393.7 472.3 393.2 473.0 392.9C473.7 392.5 474.9 390.1 475.9 390.2C476.9 390.3 477.5 392.6 478.8 393.5C480.1 394.5 482.4 395.7 483.9 395.8C485.3 396.0 486.5 394.2 487.5 394.3C488.5 394.3 489.1 397.0 490.0 396.2C490.9 395.4 491.8 390.1 492.6 389.6C493.4 389.0 494.0 391.7 494.8 392.9C495.6 394.1 496.3 397.3 497.3 396.7C498.3 396.0 499.2 392.2 500.6 388.8C502.0 385.5 504.1 377.8 505.4 376.6C506.7 375.4 507.3 378.8 508.6 381.5C509.9 384.2 511.9 391.1 513.0 392.9C514.1 394.7 514.0 394.2 515.2 392.2C516.4 390.3 518.7 381.9 520.0 381.1C521.3 380.3 521.7 385.8 523.2 387.6C524.7 389.3 527.4 393.7 529.0 391.6C530.6 389.5 531.5 375.3 532.6 374.9C533.7 374.4 534.4 386.0 535.5 388.8C536.6 391.7 537.9 391.1 539.2 391.8C540.5 392.5 542.8 392.7 543.5 392.9" fill="none" stroke="#48a65a" stroke-width="1.20" stroke-linejoin="round"/><line x1="94.5" y1="406.0" x2="94.5" y2="407.8" stroke="#444" stroke-width="0.7"/><text x="94.5" y="415.2" font-family="'Liberation Sans', Arial, sans-serif" font-size="7.4" text-anchor="middle" fill="#111" stroke="#111" stroke-width="0.25">3500</text><line x1="147.9" y1="406.0" x2="147.9" y2="407.8" stroke="#444" stroke-width="0.7"/><text x="147.9" y="415.2" font-family="'Liberation Sans', Arial, sans-serif" font-size="7.4" text-anchor="middle" fill="#111" stroke="#111" stroke-width="0.25">3000</text><line x1="201.2" y1="406.0" x2="201.2" y2="407.8" stroke="#444" stroke-width="0.7"/><text x="201.2" y="415.2" font-family="'Liberation Sans', Arial, sans-serif" font-size="7.4" text-anchor="middle" fill="#111" stroke="#111" stroke-width="0.25">2500</text><line x1="254.5" y1="406.0" x2="254.5" y2="407.8" stroke="#444" stroke-width="0.7"/><text x="254.5" y="415.2" font-family="'Liberation Sans', Arial, sans-serif" font-size="7.4" text-anchor="middle" fill="#111" stroke="#111" stroke-width="0.25">2000</text><line x1="361.1" y1="406.0" x2="361.1" y2="407.8" stroke="#444" stroke-width="0.7"/><text x="361.1" y="415.2" font-family="'Liberation Sans', Arial, sans-serif" font-size="7.4" text-anchor="middle" fill="#111" stroke="#111" stroke-width="0.25">1500</text><line x1="468.1" y1="406.0" x2="468.1" y2="407.8" stroke="#444" stroke-width="0.7"/><text x="468.1" y="415.2" font-family="'Liberation Sans', Arial, sans-serif" font-size="7.4" text-anchor="middle" fill="#111" stroke="#111" stroke-width="0.25">1000</text><text x="293.3" y="426.2" font-family="'Liberation Sans', Arial, sans-serif" font-size="7.6" text-anchor="middle" fill="#111" stroke="#111" stroke-width="0.25">Wavenumbers (cm-1)</text><text transform="translate(149.0 31.5) rotate(-90)" font-family="'Liberation Serif', 'Times New Roman', serif" font-size="9.8" fill="#111" stroke="#111" stroke-width="0.25">3000</text><text transform="translate(171.7 31.5) rotate(-90)" font-family="'Liberation Serif', 'Times New Roman', serif" font-size="9.8" fill="#111" stroke="#111" stroke-width="0.25">2800</text><text transform="translate(212.2 31.5) rotate(-90)" font-family="'Liberation Serif', 'Times New Roman', serif" font-size="9.8" fill="#111" stroke="#111" stroke-width="0.25">2400</text><text transform="translate(227.8 31.5) rotate(-90)" font-family="'Liberation Serif', 'Times New Roman', serif" font-size="9.8" fill="#111" stroke="#111" stroke-width="0.25">2300</text><text transform="translate(235.4 31.5) rotate(-90)" font-family="'Liberation Serif', 'Times New Roman', serif" font-size="9.8" fill="#111" stroke="#111" stroke-width="0.25">2236</text><text transform="translate(309.3 31.5) rotate(-90)" font-family="'Liberation Serif', 'Times New Roman', serif" font-size="9.8" fill="#111" stroke="#111" stroke-width="0.25">1770</text><text transform="translate(365.8 31.5) rotate(-90)" font-family="'Liberation Serif', 'Times New Roman', serif" font-size="9.8" fill="#111" stroke="#111" stroke-width="0.25">1501</text><text transform="translate(405.0 31.5) rotate(-90)" font-family="'Liberation Serif', 'Times New Roman', serif" font-size="9.8" fill="#111" stroke="#111" stroke-width="0.25">1338</text><text transform="translate(423.3 31.5) rotate(-90)" font-family="'Liberation Serif', 'Times New Roman', serif" font-size="9.8" fill="#111" stroke="#111" stroke-width="0.25">1221</text><text transform="translate(431.3 31.5) rotate(-90)" font-family="'Liberation Serif', 'Times New Roman', serif" font-size="9.8" fill="#111" stroke="#111" stroke-width="0.25">1188</text><text transform="translate(439.7 31.5) rotate(-90)" font-family="'Liberation Serif', 'Times New Roman', serif" font-size="9.8" fill="#111" stroke="#111" stroke-width="0.25">1159</text><text transform="translate(481.5 31.5) rotate(-90)" font-family="'Liberation Serif', 'Times New Roman', serif" font-size="9.8" fill="#111" stroke="#111" stroke-width="0.25">965</text><text transform="translate(494.0 31.5) rotate(-90)" font-family="'Liberation Serif', 'Times New Roman', serif" font-size="9.8" fill="#111" stroke="#111" stroke-width="0.25">912</text><text x="156.3" y="54.0" font-family="'Liberation Serif', 'Times New Roman', serif" font-size="10.3" font-weight="bold" text-anchor="middle" fill="#111">C-H</text><text x="238.2" y="85.4" font-family="'Liberation Serif', 'Times New Roman', serif" font-size="10.3" font-weight="bold" text-anchor="middle" fill="#111">C≡N</text><text x="306.0" y="119.2" font-family="'Liberation Serif', 'Times New Roman', serif" font-size="10.3" font-weight="bold" text-anchor="middle" fill="#111">C=O</text><text x="360.8" y="170.1" font-family="'Liberation Serif', 'Times New Roman', serif" font-size="10.3" font-weight="bold" text-anchor="middle" fill="#111">C-C</text><text x="360.5" y="193.9" font-family="'Liberation Serif', 'Times New Roman', serif" font-size="10.3" font-weight="bold" text-anchor="middle" fill="#111">aromatic</text><text x="425.3" y="83.4" font-family="'Liberation Serif', 'Times New Roman', serif" font-size="10.3" font-weight="bold" text-anchor="middle" fill="#111">C-H</text><text x="482.2" y="118.9" font-family="'Liberation Serif', 'Times New Roman', serif" font-size="10.3" font-weight="bold" text-anchor="middle" fill="#111">C-H</text><text x="208" y="203.0" font-family="'Liberation Serif', 'Times New Roman', serif" font-size="10.3" font-weight="bold" fill="#111">CO<tspan font-size="5.5" dy="0.8">2</tspan></text><rect x="12.8" y="450.4" width="16.4" height="18.4" fill="#fff" stroke="#15305f" stroke-width="1.85"/><text x="21.2" y="462.0" font-family="'Liberation Serif', 'Times New Roman', serif" font-size="10.8" text-anchor="middle" fill="#111" stroke="#111" stroke-width="0.3">b</text><rect x="6.5" y="471.3" width="537" height="398.0" fill="none" stroke="#999999" stroke-width="1"/><line x1="255.3" y1="471.3" x2="255.3" y2="847.2" stroke="#ececec" stroke-width="1"/><rect x="141.8" y="471.3" width="31.7" height="377.7" fill="#fde4e4"/><rect x="211.4" y="471.3" width="12.4" height="377.7" fill="#e6edf9"/><rect x="227.1" y="471.3" width="8.5" height="377.7" fill="#fde4e4"/><rect x="297.6" y="471.3" width="16.6" height="377.7" fill="#fde4e4"/><rect x="354.0" y="471.3" width="16.1" height="377.7" fill="#fde4e4"/><rect x="398.1" y="471.3" width="8.8" height="377.7" fill="#e6edf9"/><rect x="412.8" y="471.3" width="27.5" height="377.7" fill="#fde4e4"/><rect x="473.0" y="471.3" width="20.9" height="377.7" fill="#fde4e4"/><rect x="140.3" y="471.3" width="34.7" height="377.7" fill="none" stroke="#fa2a2a" stroke-width="1.4"/><rect x="209.9" y="471.3" width="15.4" height="377.7" fill="none" stroke="#5a96de" stroke-width="1.4"/><rect x="225.6" y="471.3" width="11.5" height="377.7" fill="none" stroke="#fa2a2a" stroke-width="1.4"/><rect x="296.1" y="471.3" width="19.6" height="377.7" fill="none" stroke="#fa2a2a" stroke-width="1.4"/><rect x="352.5" y="471.3" width="19.1" height="377.7" fill="none" stroke="#fa2a2a" stroke-width="1.4"/><rect x="396.6" y="471.3" width="11.8" height="377.7" fill="none" stroke="#5a96de" stroke-width="1.4"/><rect x="411.3" y="471.3" width="30.5" height="377.7" fill="none" stroke="#fa2a2a" stroke-width="1.4"/><rect x="471.5" y="471.3" width="23.9" height="377.7" fill="none" stroke="#fa2a2a" stroke-width="1.4"/><line x1="42.5" y1="534.2" x2="543.5" y2="534.2" stroke="#8a8a8a" stroke-width="1"/><line x1="42.5" y1="596.2" x2="543.5" y2="596.2" stroke="#8a8a8a" stroke-width="1"/><line x1="42.5" y1="659.0" x2="543.5" y2="659.0" stroke="#8a8a8a" stroke-width="1"/><line x1="42.5" y1="721.1" x2="543.5" y2="721.1" stroke="#8a8a8a" stroke-width="1"/><line x1="42.5" y1="783.7" x2="543.5" y2="783.7" stroke="#8a8a8a" stroke-width="1"/><line x1="42.5" y1="847.2" x2="543.5" y2="847.2" stroke="#303030" stroke-width="1.4"/><line x1="42.5" y1="471.3" x2="42.5" y2="847.2" stroke="#303030" stroke-width="1.3"/><line x1="40.7" y1="473.0" x2="42.5" y2="473.0" stroke="#444" stroke-width="0.8"/><line x1="40.7" y1="480.8" x2="42.5" y2="480.8" stroke="#444" stroke-width="0.8"/><line x1="40.7" y1="488.6" x2="42.5" y2="488.6" stroke="#444" stroke-width="0.8"/><line x1="40.1" y1="496.4" x2="42.5" y2="496.4" stroke="#444" stroke-width="0.8"/><line x1="40.7" y1="504.2" x2="42.5" y2="504.2" stroke="#444" stroke-width="0.8"/><line x1="40.7" y1="512.0" x2="42.5" y2="512.0" stroke="#444" stroke-width="0.8"/><line x1="40.7" y1="519.8" x2="42.5" y2="519.8" stroke="#444" stroke-width="0.8"/><line x1="40.7" y1="527.6" x2="42.5" y2="527.6" stroke="#444" stroke-width="0.8"/><text x="39.3" y="499.0" font-family="'Liberation Sans', Arial, sans-serif" font-size="7.4" text-anchor="end" fill="#111" stroke="#111" stroke-width="0.25">0.2</text><text x="39.3" y="532.6" font-family="'Liberation Sans', Arial, sans-serif" font-size="7.4" text-anchor="end" fill="#111" stroke="#111" stroke-width="0.25">0.0</text><text transform="translate(14.3 502.6) rotate(-90)" font-family="'Liberation Sans', Arial, sans-serif" font-size="7.4" text-anchor="middle" fill="#111" stroke="#111" stroke-width="0.25">Absorbance</text><text x="43.2" y="478.8" font-family="'Liberation Sans', Arial, sans-serif" font-size="7.6" fill="#111" stroke="#111" stroke-width="0.25">PC-ABS</text><line x1="40.7" y1="542.8" x2="42.5" y2="542.8" stroke="#444" stroke-width="0.8"/><line x1="40.7" y1="550.6" x2="42.5" y2="550.6" stroke="#444" stroke-width="0.8"/><line x1="40.1" y1="558.4" x2="42.5" y2="558.4" stroke="#444" stroke-width="0.8"/><line x1="40.7" y1="566.2" x2="42.5" y2="566.2" stroke="#444" stroke-width="0.8"/><line x1="40.7" y1="574.0" x2="42.5" y2="574.0" stroke="#444" stroke-width="0.8"/><line x1="40.7" y1="581.8" x2="42.5" y2="581.8" stroke="#444" stroke-width="0.8"/><line x1="40.7" y1="589.6" x2="42.5" y2="589.6" stroke="#444" stroke-width="0.8"/><text x="39.3" y="561.0" font-family="'Liberation Sans', Arial, sans-serif" font-size="7.4" text-anchor="end" fill="#111" stroke="#111" stroke-width="0.25">0.2</text><text x="39.3" y="594.6" font-family="'Liberation Sans', Arial, sans-serif" font-size="7.4" text-anchor="end" fill="#111" stroke="#111" stroke-width="0.25">0.0</text><text transform="translate(14.3 565.5) rotate(-90)" font-family="'Liberation Sans', Arial, sans-serif" font-size="7.4" text-anchor="middle" fill="#111" stroke="#111" stroke-width="0.25">Absorbance</text><text x="43.2" y="541.7" font-family="'Liberation Sans', Arial, sans-serif" font-size="7.6" fill="#111" stroke="#111" stroke-width="0.25">PAS 1</text><line x1="40.7" y1="597.9" x2="42.5" y2="597.9" stroke="#444" stroke-width="0.8"/><line x1="40.7" y1="605.6" x2="42.5" y2="605.6" stroke="#444" stroke-width="0.8"/><line x1="40.7" y1="613.5" x2="42.5" y2="613.5" stroke="#444" stroke-width="0.8"/><line x1="40.1" y1="621.2" x2="42.5" y2="621.2" stroke="#444" stroke-width="0.8"/><line x1="40.7" y1="629.0" x2="42.5" y2="629.0" stroke="#444" stroke-width="0.8"/><line x1="40.7" y1="636.9" x2="42.5" y2="636.9" stroke="#444" stroke-width="0.8"/><line x1="40.7" y1="644.6" x2="42.5" y2="644.6" stroke="#444" stroke-width="0.8"/><line x1="40.7" y1="652.5" x2="42.5" y2="652.5" stroke="#444" stroke-width="0.8"/><text x="39.3" y="623.9" font-family="'Liberation Sans', Arial, sans-serif" font-size="7.4" text-anchor="end" fill="#111" stroke="#111" stroke-width="0.25">0.2</text><text x="39.3" y="657.4" font-family="'Liberation Sans', Arial, sans-serif" font-size="7.4" text-anchor="end" fill="#111" stroke="#111" stroke-width="0.25">0.0</text><text transform="translate(14.3 627.5) rotate(-90)" font-family="'Liberation Sans', Arial, sans-serif" font-size="7.4" text-anchor="middle" fill="#111" stroke="#111" stroke-width="0.25">Absorbance</text><text x="43.2" y="603.7" font-family="'Liberation Sans', Arial, sans-serif" font-size="7.6" fill="#111" stroke="#111" stroke-width="0.25">PAS 5</text><line x1="40.7" y1="667.7" x2="42.5" y2="667.7" stroke="#444" stroke-width="0.8"/><line x1="40.7" y1="675.5" x2="42.5" y2="675.5" stroke="#444" stroke-width="0.8"/><line x1="40.1" y1="683.3" x2="42.5" y2="683.3" stroke="#444" stroke-width="0.8"/><line x1="40.7" y1="691.1" x2="42.5" y2="691.1" stroke="#444" stroke-width="0.8"/><line x1="40.7" y1="698.9" x2="42.5" y2="698.9" stroke="#444" stroke-width="0.8"/><line x1="40.7" y1="706.7" x2="42.5" y2="706.7" stroke="#444" stroke-width="0.8"/><line x1="40.7" y1="714.5" x2="42.5" y2="714.5" stroke="#444" stroke-width="0.8"/><text x="39.3" y="685.9" font-family="'Liberation Sans', Arial, sans-serif" font-size="7.4" text-anchor="end" fill="#111" stroke="#111" stroke-width="0.25">0.2</text><text x="39.3" y="719.5" font-family="'Liberation Sans', Arial, sans-serif" font-size="7.4" text-anchor="end" fill="#111" stroke="#111" stroke-width="0.25">0.0</text><text transform="translate(14.3 690.4) rotate(-90)" font-family="'Liberation Sans', Arial, sans-serif" font-size="7.4" text-anchor="middle" fill="#111" stroke="#111" stroke-width="0.25">Absorbance</text><text x="43.2" y="666.5" font-family="'Liberation Sans', Arial, sans-serif" font-size="7.6" fill="#111" stroke="#111" stroke-width="0.25">PArGO 4</text><line x1="40.7" y1="722.5" x2="42.5" y2="722.5" stroke="#444" stroke-width="0.8"/><line x1="40.7" y1="730.3" x2="42.5" y2="730.3" stroke="#444" stroke-width="0.8"/><line x1="40.7" y1="738.1" x2="42.5" y2="738.1" stroke="#444" stroke-width="0.8"/><line x1="40.1" y1="745.9" x2="42.5" y2="745.9" stroke="#444" stroke-width="0.8"/><line x1="40.7" y1="753.7" x2="42.5" y2="753.7" stroke="#444" stroke-width="0.8"/><line x1="40.7" y1="761.5" x2="42.5" y2="761.5" stroke="#444" stroke-width="0.8"/><line x1="40.7" y1="769.3" x2="42.5" y2="769.3" stroke="#444" stroke-width="0.8"/><line x1="40.7" y1="777.1" x2="42.5" y2="777.1" stroke="#444" stroke-width="0.8"/><text x="39.3" y="748.5" font-family="'Liberation Sans', Arial, sans-serif" font-size="7.4" text-anchor="end" fill="#111" stroke="#111" stroke-width="0.25">0.2</text><text x="39.3" y="782.1" font-family="'Liberation Sans', Arial, sans-serif" font-size="7.4" text-anchor="end" fill="#111" stroke="#111" stroke-width="0.25">0.0</text><text transform="translate(14.3 752.4) rotate(-90)" font-family="'Liberation Sans', Arial, sans-serif" font-size="7.4" text-anchor="middle" fill="#111" stroke="#111" stroke-width="0.25">Absorbance</text><text x="43.2" y="728.6" font-family="'Liberation Sans', Arial, sans-serif" font-size="7.6" fill="#111" stroke="#111" stroke-width="0.25">PArGO 4-S1</text><line x1="40.7" y1="786.0" x2="42.5" y2="786.0" stroke="#444" stroke-width="0.8"/><line x1="40.7" y1="793.8" x2="42.5" y2="793.8" stroke="#444" stroke-width="0.8"/><line x1="40.7" y1="801.6" x2="42.5" y2="801.6" stroke="#444" stroke-width="0.8"/><line x1="40.1" y1="809.4" x2="42.5" y2="809.4" stroke="#444" stroke-width="0.8"/><line x1="40.7" y1="817.2" x2="42.5" y2="817.2" stroke="#444" stroke-width="0.8"/><line x1="40.7" y1="825.0" x2="42.5" y2="825.0" stroke="#444" stroke-width="0.8"/><line x1="40.7" y1="832.8" x2="42.5" y2="832.8" stroke="#444" stroke-width="0.8"/><line x1="40.7" y1="840.6" x2="42.5" y2="840.6" stroke="#444" stroke-width="0.8"/><text x="39.3" y="812.0" font-family="'Liberation Sans', Arial, sans-serif" font-size="7.4" text-anchor="end" fill="#111" stroke="#111" stroke-width="0.25">0.2</text><text x="39.3" y="845.6" font-family="'Liberation Sans', Arial, sans-serif" font-size="7.4" text-anchor="end" fill="#111" stroke="#111" stroke-width="0.25">0.0</text><text transform="translate(14.3 815.0) rotate(-90)" font-family="'Liberation Sans', Arial, sans-serif" font-size="7.4" text-anchor="middle" fill="#111" stroke="#111" stroke-width="0.25">Absorbance</text><text x="43.2" y="791.2" font-family="'Liberation Sans', Arial, sans-serif" font-size="7.6" fill="#111" stroke="#111" stroke-width="0.25">PArGO 4-S5</text><path d="M42.5 533.6C45.4 533.6 50.4 533.5 60.0 533.4C69.6 533.4 88.3 533.4 100.0 533.3C111.7 533.3 123.3 533.2 130.0 533.1C136.7 533.1 137.8 533.1 140.0 533.0C142.2 532.9 141.8 532.8 143.0 532.6C144.2 532.5 145.8 532.4 147.0 532.0C148.2 531.7 149.1 530.9 150.0 530.3C150.9 529.7 151.9 528.5 152.7 528.5C153.5 528.5 154.2 530.4 154.9 530.3C155.6 530.3 156.3 528.4 157.0 528.2C157.7 528.0 158.2 528.8 159.0 529.1C159.8 529.5 161.0 529.8 162.0 530.1C163.0 530.5 164.0 530.8 165.0 531.3C166.0 531.7 166.3 532.5 168.0 532.8C169.7 533.1 169.7 533.1 175.0 533.1C180.3 533.2 194.2 533.2 200.0 533.2C205.8 533.2 208.0 533.2 210.0 533.1C212.0 533.1 211.3 533.0 212.0 532.9C212.7 532.8 213.3 532.7 214.0 532.6C214.7 532.5 215.3 532.3 216.0 532.2C216.7 532.1 217.3 532.0 218.0 532.0C218.7 532.0 219.3 532.0 220.0 532.1C220.7 532.2 221.3 532.2 222.0 532.4C222.7 532.5 223.3 532.8 224.0 532.9C224.7 533.1 225.0 533.1 226.0 533.1C227.0 533.1 228.7 533.2 230.0 533.1C231.3 533.1 232.7 532.7 234.0 532.7C235.3 532.7 234.5 533.1 238.0 533.1C241.5 533.2 249.7 533.1 255.0 533.0C260.3 533.0 265.8 532.8 270.0 532.7C274.2 532.6 276.7 532.5 280.0 532.3C283.3 532.2 287.4 532.1 290.0 532.0C292.6 531.8 294.0 531.9 295.3 531.7C296.6 531.4 297.0 532.4 297.8 530.5C298.6 528.6 299.6 523.4 300.4 520.0C301.1 516.6 301.6 512.6 302.3 510.1C303.0 507.7 303.8 505.4 304.4 505.4C305.0 505.4 305.6 508.1 306.1 510.1C306.6 512.1 306.9 515.0 307.4 517.5C307.9 520.0 308.4 523.1 309.3 524.9C310.2 526.7 311.8 527.4 313.1 528.4C314.4 529.3 315.6 530.0 316.9 530.5C318.2 531.0 318.4 531.3 320.7 531.4C323.0 531.5 328.3 531.0 330.9 531.1C333.4 531.1 334.7 531.8 336.0 531.7C337.3 531.5 337.7 530.7 338.5 530.2C339.3 529.7 340.0 528.8 340.8 528.8C341.6 528.9 342.4 529.8 343.3 530.3C344.2 530.8 345.2 531.4 346.2 531.7C347.2 531.9 348.0 532.0 349.5 532.0C351.0 531.9 354.0 531.8 355.3 531.1C356.6 530.4 356.8 530.1 357.5 527.8C358.2 525.5 358.9 520.0 359.5 517.1C360.1 514.3 360.8 510.5 361.4 510.7C362.0 510.9 362.6 515.4 363.2 518.1C363.8 520.8 364.0 525.2 364.8 526.8C365.6 528.4 366.9 527.7 368.0 527.6C369.1 527.4 370.0 525.7 371.2 525.9C372.4 526.2 373.8 528.4 375.0 529.2C376.2 530.1 377.1 531.4 378.2 531.1C379.3 530.8 380.4 527.8 381.4 527.6C382.4 527.4 383.4 529.5 384.3 529.8C385.2 530.1 386.0 529.6 387.1 529.2C388.2 528.9 389.7 527.4 390.9 527.6C392.1 527.8 392.8 529.9 394.1 530.5C395.4 531.1 396.9 531.6 398.5 531.1C400.1 530.6 402.1 528.5 403.6 527.6C405.1 526.6 406.4 525.8 407.5 525.5C408.6 525.1 409.5 525.8 410.1 525.7C410.7 525.6 410.7 526.9 411.2 524.9C411.7 523.0 412.4 517.8 413.0 514.2C413.6 510.6 414.3 506.8 415.0 503.5C415.7 500.2 416.3 497.1 417.0 494.3C417.7 491.5 418.3 488.9 419.0 486.7C419.7 484.5 420.4 478.8 421.3 481.2C422.2 483.5 423.1 502.1 424.3 500.8C425.5 499.4 427.3 473.5 428.5 473.2C429.7 472.9 430.5 499.1 431.5 499.1C432.5 499.2 433.6 473.7 434.7 473.6C435.8 473.6 437.0 492.2 438.1 498.9C439.2 505.6 440.5 511.6 441.3 514.0C442.1 516.3 442.4 513.6 443.2 513.1C444.0 512.6 445.4 510.4 446.4 511.0C447.3 511.7 448.0 518.1 448.9 517.0C449.8 515.9 450.9 504.8 451.8 504.6C452.7 504.3 453.1 513.2 454.0 515.7C454.9 518.2 455.9 518.5 457.2 519.6C458.5 520.7 460.1 526.1 461.6 522.3C463.1 518.4 464.8 498.6 466.1 496.6C467.4 494.6 468.4 506.7 469.3 510.4C470.2 514.2 471.2 517.4 471.8 519.0C472.4 520.5 472.3 520.0 473.0 519.6C473.7 519.2 474.9 516.5 475.9 516.6C476.9 516.7 477.5 519.3 478.8 520.3C480.1 521.4 482.4 522.8 483.9 522.9C485.3 523.0 486.5 521.1 487.5 521.1C488.5 521.2 489.1 524.2 490.0 523.3C490.9 522.4 491.8 516.5 492.6 515.9C493.4 515.3 494.0 518.3 494.8 519.6C495.6 520.9 496.3 524.6 497.3 523.8C498.3 523.1 499.2 518.8 500.6 515.1C502.0 511.3 504.1 502.7 505.4 501.4C506.7 500.0 507.3 503.8 508.6 506.8C509.9 509.9 511.9 517.6 513.0 519.6C514.1 521.6 514.0 521.1 515.2 518.9C516.4 516.7 518.7 507.3 520.0 506.4C521.3 505.5 521.7 511.7 523.2 513.6C524.7 515.6 527.4 520.5 529.0 518.1C530.6 515.8 531.5 499.9 532.6 499.4C533.7 498.9 534.4 511.9 535.5 515.1C536.6 518.2 537.9 517.6 539.2 518.4C540.5 519.1 542.8 519.4 543.5 519.6" fill="none" stroke="#f27c7c" stroke-width="1.00" stroke-linejoin="round"/><path d="M42.5 595.6C45.4 595.6 50.4 595.5 60.0 595.4C69.6 595.4 88.3 595.4 100.0 595.4C111.7 595.3 123.3 595.2 130.0 595.2C136.7 595.1 137.8 595.2 140.0 595.1C142.2 595.0 141.8 594.9 143.0 594.8C144.2 594.6 145.8 594.6 147.0 594.3C148.2 593.9 149.1 593.3 150.0 592.8C150.9 592.3 151.9 591.2 152.7 591.2C153.5 591.2 154.2 592.8 154.9 592.8C155.6 592.7 156.3 591.1 157.0 591.0C157.7 590.8 158.2 591.5 159.0 591.8C159.8 592.1 161.0 592.3 162.0 592.6C163.0 592.9 164.0 593.2 165.0 593.6C166.0 594.0 166.3 594.7 168.0 594.9C169.7 595.2 169.7 595.1 175.0 595.2C180.3 595.2 194.2 595.3 200.0 595.3C205.8 595.3 208.0 595.2 210.0 595.2C212.0 595.1 211.3 595.1 212.0 595.0C212.7 594.9 213.3 594.9 214.0 594.7C214.7 594.6 215.3 594.5 216.0 594.4C216.7 594.3 217.3 594.2 218.0 594.2C218.7 594.2 219.3 594.2 220.0 594.3C220.7 594.3 221.3 594.4 222.0 594.5C222.7 594.6 223.3 594.9 224.0 595.0C224.7 595.1 225.0 595.2 226.0 595.2C227.0 595.2 228.7 595.2 230.0 595.2C231.3 595.1 232.7 594.9 234.0 594.9C235.3 594.9 234.5 595.1 238.0 595.2C241.5 595.2 249.7 595.2 255.0 595.1C260.3 595.0 265.8 594.9 270.0 594.9C274.2 594.8 276.7 594.6 280.0 594.5C283.3 594.4 287.4 594.3 290.0 594.2C292.6 594.1 294.0 594.1 295.3 593.9C296.6 593.7 297.0 594.6 297.8 592.9C298.6 591.3 299.6 586.9 300.4 584.0C301.1 581.1 301.6 577.6 302.3 575.5C303.0 573.4 303.8 571.4 304.4 571.4C305.0 571.4 305.6 573.8 306.1 575.5C306.6 577.2 306.9 579.7 307.4 581.8C307.9 583.9 308.4 586.6 309.3 588.1C310.2 589.7 311.8 590.3 313.1 591.1C314.4 591.9 315.6 592.5 316.9 592.9C318.2 593.4 318.4 593.6 320.7 593.7C323.0 593.8 328.3 593.4 330.9 593.4C333.4 593.5 334.7 594.1 336.0 593.9C337.3 593.8 337.7 593.1 338.5 592.7C339.3 592.3 340.0 591.5 340.8 591.5C341.6 591.5 342.4 592.4 343.3 592.8C344.2 593.2 345.2 593.7 346.2 593.9C347.2 594.2 348.0 594.3 349.5 594.2C351.0 594.1 354.0 594.0 355.3 593.4C356.6 592.8 356.8 592.6 357.5 590.6C358.2 588.6 358.9 583.9 359.5 581.5C360.1 579.1 360.8 575.9 361.4 576.0C362.0 576.2 362.6 580.0 363.2 582.3C363.8 584.6 364.0 588.4 364.8 589.8C365.6 591.1 366.9 590.6 368.0 590.5C369.1 590.3 370.0 588.8 371.2 589.0C372.4 589.3 373.8 591.1 375.0 591.9C376.2 592.6 377.1 593.7 378.2 593.4C379.3 593.2 380.4 590.6 381.4 590.5C382.4 590.3 383.4 592.1 384.3 592.4C385.2 592.6 386.0 592.2 387.1 591.9C388.2 591.5 389.7 590.3 390.9 590.5C392.1 590.6 392.8 592.4 394.1 592.9C395.4 593.4 396.9 593.9 398.5 593.4C400.1 593.0 402.1 591.3 403.6 590.5C405.1 589.6 406.4 588.9 407.5 588.6C408.6 588.3 409.5 588.8 410.1 588.7C410.7 588.6 410.7 589.7 411.2 588.0C411.7 586.3 412.4 581.7 413.0 578.5C413.6 575.3 414.3 572.0 415.0 569.1C415.7 566.1 416.3 563.4 417.0 561.0C417.7 558.5 418.3 556.1 419.0 554.2C419.7 552.3 420.4 547.3 421.3 549.3C422.2 551.4 423.1 567.8 424.3 566.6C425.5 565.5 427.3 542.6 428.5 542.3C429.7 542.1 430.5 565.1 431.5 565.2C432.5 565.2 433.6 542.7 434.7 542.7C435.8 542.7 437.0 559.1 438.1 565.0C439.2 570.9 440.5 576.2 441.3 578.2C442.1 580.3 442.4 577.9 443.2 577.4C444.0 576.9 445.4 574.9 446.4 575.5C447.3 576.0 448.0 581.8 448.9 580.8C449.8 579.8 450.9 569.9 451.8 569.7C452.7 569.5 453.1 577.4 454.0 579.6C454.9 581.8 455.9 582.1 457.2 583.1C458.5 584.1 460.1 588.9 461.6 585.5C463.1 582.1 464.8 564.3 466.1 562.6C467.4 560.8 468.4 571.6 469.3 574.9C470.2 578.2 471.2 581.2 471.8 582.5C472.4 583.9 472.3 583.4 473.0 583.1C473.7 582.7 474.9 580.3 475.9 580.4C476.9 580.5 477.5 582.8 478.8 583.7C480.1 584.7 482.4 585.9 483.9 586.0C485.3 586.2 486.5 584.4 487.5 584.5C488.5 584.5 489.1 587.2 490.0 586.4C490.9 585.6 491.8 580.3 492.6 579.8C493.4 579.2 494.0 581.9 494.8 583.1C495.6 584.3 496.3 587.5 497.3 586.9C498.3 586.2 499.2 582.4 500.6 579.0C502.0 575.7 504.1 568.0 505.4 566.8C506.7 565.6 507.3 569.0 508.6 571.7C509.9 574.4 511.9 581.3 513.0 583.1C514.1 584.9 514.0 584.4 515.2 582.4C516.4 580.5 518.7 572.1 520.0 571.3C521.3 570.5 521.7 576.0 523.2 577.8C524.7 579.5 527.4 583.9 529.0 581.8C530.6 579.7 531.5 565.5 532.6 565.1C533.7 564.6 534.4 576.2 535.5 579.0C536.6 581.9 537.9 581.3 539.2 582.0C540.5 582.7 542.8 582.9 543.5 583.1" fill="none" stroke="#f5b862" stroke-width="1.00" stroke-linejoin="round"/><path d="M42.5 658.4C45.4 658.4 50.4 658.3 60.0 658.3C69.6 658.2 88.3 658.2 100.0 658.2C111.7 658.1 123.3 658.0 130.0 658.0C136.7 658.0 137.8 658.0 140.0 657.9C142.2 657.8 141.8 657.7 143.0 657.5C144.2 657.4 145.8 657.4 147.0 657.0C148.2 656.6 149.1 655.9 150.0 655.4C150.9 654.8 151.9 653.7 152.7 653.7C153.5 653.7 154.2 655.4 154.9 655.4C155.6 655.3 156.3 653.6 157.0 653.4C157.7 653.2 158.2 654.0 159.0 654.3C159.8 654.6 161.0 654.9 162.0 655.2C163.0 655.5 164.0 655.9 165.0 656.3C166.0 656.7 166.3 657.4 168.0 657.7C169.7 658.0 169.7 657.9 175.0 658.0C180.3 658.1 194.2 658.1 200.0 658.1C205.8 658.1 208.0 658.0 210.0 658.0C212.0 658.0 211.3 657.9 212.0 657.8C212.7 657.7 213.3 657.7 214.0 657.5C214.7 657.4 215.3 657.1 216.0 657.0C216.7 656.9 217.3 656.8 218.0 656.8C218.7 656.7 219.3 656.8 220.0 656.9C220.7 657.0 221.3 657.0 222.0 657.1C222.7 657.3 223.3 657.7 224.0 657.8C224.7 657.9 225.0 658.0 226.0 658.0C227.0 658.0 228.7 658.1 230.0 658.0C231.3 657.9 232.7 657.6 234.0 657.6C235.3 657.6 234.5 658.0 238.0 658.0C241.5 658.0 249.7 658.0 255.0 657.9C260.3 657.9 265.8 657.7 270.0 657.6C274.2 657.5 276.7 657.4 280.0 657.3C283.3 657.2 287.4 657.0 290.0 656.9C292.6 656.8 294.0 656.9 295.3 656.6C296.6 656.4 297.0 657.4 297.8 655.6C298.6 653.8 299.6 649.0 300.4 645.8C301.1 642.7 301.6 638.9 302.3 636.7C303.0 634.4 303.8 632.3 304.4 632.3C305.0 632.3 305.6 634.8 306.1 636.7C306.6 638.5 306.9 641.2 307.4 643.5C307.9 645.8 308.4 648.7 309.3 650.3C310.2 652.0 311.8 652.7 313.1 653.6C314.4 654.5 315.6 655.1 316.9 655.6C318.2 656.0 318.4 656.3 320.7 656.4C323.0 656.5 328.3 656.1 330.9 656.1C333.4 656.2 334.7 656.8 336.0 656.6C337.3 656.5 337.7 655.7 338.5 655.3C339.3 654.9 340.0 654.0 340.8 654.0C341.6 654.1 342.4 655.0 343.3 655.4C344.2 655.8 345.2 656.4 346.2 656.6C347.2 656.9 348.0 657.0 349.5 656.9C351.0 656.8 354.0 656.8 355.3 656.1C356.6 655.5 356.8 655.2 357.5 653.0C358.2 650.9 358.9 645.8 359.5 643.1C360.1 640.5 360.8 637.1 361.4 637.2C362.0 637.4 362.6 641.6 363.2 644.0C363.8 646.5 364.0 650.7 364.8 652.1C365.6 653.6 366.9 653.0 368.0 652.9C369.1 652.7 370.0 651.1 371.2 651.3C372.4 651.6 373.8 653.6 375.0 654.4C376.2 655.2 377.1 656.4 378.2 656.1C379.3 655.9 380.4 653.1 381.4 652.9C382.4 652.7 383.4 654.7 384.3 654.9C385.2 655.2 386.0 654.7 387.1 654.4C388.2 654.1 389.7 652.7 390.9 652.9C392.1 653.1 392.8 655.0 394.1 655.6C395.4 656.1 396.9 656.6 398.5 656.1C400.1 655.7 402.1 653.7 403.6 652.9C405.1 652.0 406.4 651.2 407.5 650.9C408.6 650.6 409.5 651.2 410.1 651.2C410.7 651.1 410.7 652.2 411.2 650.5C411.7 648.7 412.4 643.9 413.0 640.6C413.6 637.3 414.3 633.8 415.0 630.7C415.7 627.7 416.3 624.8 417.0 622.3C417.7 619.7 418.3 617.2 419.0 615.2C419.7 613.2 420.4 608.0 421.3 610.1C422.2 612.3 423.1 629.4 424.3 628.2C425.5 627.0 427.3 603.1 428.5 602.8C429.7 602.6 430.5 626.6 431.5 626.7C432.5 626.7 433.6 603.2 434.7 603.2C435.8 603.1 437.0 620.3 438.1 626.5C439.2 632.7 440.5 638.3 441.3 640.6C442.1 642.9 442.4 640.5 443.2 640.2C444.0 639.9 445.4 638.3 446.4 639.0C447.3 639.6 448.0 645.1 448.9 644.1C449.8 643.2 450.9 633.5 451.8 633.4C452.7 633.2 453.1 640.8 454.0 643.0C454.9 645.1 455.9 645.4 457.2 646.3C458.5 647.3 460.1 652.0 461.6 648.7C463.1 645.4 464.8 628.2 466.1 626.5C467.4 624.8 468.4 635.2 469.3 638.4C470.2 641.6 471.2 644.5 471.8 645.8C472.4 647.1 472.3 646.7 473.0 646.3C473.7 646.0 474.9 643.7 475.9 643.8C476.9 643.9 477.5 646.1 478.8 647.0C480.1 647.9 482.4 649.1 483.9 649.2C485.3 649.3 486.5 647.6 487.5 647.7C488.5 647.7 489.1 650.3 490.0 649.5C490.9 648.8 491.8 643.7 492.6 643.1C493.4 642.6 494.0 645.2 494.8 646.3C495.6 647.5 496.3 650.6 497.3 650.0C498.3 649.3 499.2 645.7 500.6 642.4C502.0 639.2 504.1 631.8 505.4 630.6C506.7 629.4 507.3 632.7 508.6 635.3C509.9 637.9 511.9 644.6 513.0 646.3C514.1 648.1 514.0 647.6 515.2 645.7C516.4 643.8 518.7 635.7 520.0 635.0C521.3 634.2 521.7 639.5 523.2 641.2C524.7 642.9 527.4 647.1 529.0 645.1C530.6 643.1 531.5 629.3 532.6 628.9C533.7 628.5 534.4 639.7 535.5 642.4C536.6 645.2 537.9 644.6 539.2 645.3C540.5 645.9 542.8 646.2 543.5 646.3" fill="none" stroke="#c47cc6" stroke-width="1.00" stroke-linejoin="round"/><path d="M42.5 720.5C45.4 720.5 50.4 720.4 60.0 720.4C69.6 720.4 88.3 720.4 100.0 720.3C111.7 720.3 123.3 720.3 130.0 720.2C136.7 720.2 137.8 720.2 140.0 720.2C142.2 720.1 141.8 720.1 143.0 720.0C144.2 719.9 145.8 719.9 147.0 719.6C148.2 719.4 149.1 719.0 150.0 718.7C150.9 718.3 151.9 717.6 152.7 717.6C153.5 717.6 154.2 718.7 154.9 718.7C155.6 718.6 156.3 717.6 157.0 717.5C157.7 717.4 158.2 717.8 159.0 718.0C159.8 718.2 161.0 718.4 162.0 718.6C163.0 718.8 164.0 719.0 165.0 719.2C166.0 719.5 166.3 719.9 168.0 720.1C169.7 720.2 169.7 720.2 175.0 720.2C180.3 720.3 194.2 720.3 200.0 720.3C205.8 720.3 208.0 720.3 210.0 720.2C212.0 720.2 211.3 720.2 212.0 720.1C212.7 720.1 213.3 720.1 214.0 719.8C214.7 719.6 215.3 719.1 216.0 718.8C216.7 718.6 217.3 718.2 218.0 718.2C218.7 718.1 219.3 718.4 220.0 718.4C220.7 718.5 221.3 718.3 222.0 718.5C222.7 718.7 223.3 719.5 224.0 719.8C224.7 720.0 225.0 720.1 226.0 720.2C227.0 720.3 228.7 720.3 230.0 720.2C231.3 720.2 232.7 720.0 234.0 720.0C235.3 720.0 234.5 720.2 238.0 720.2C241.5 720.3 249.7 720.2 255.0 720.2C260.3 720.1 265.8 720.1 270.0 720.0C274.2 720.0 276.7 719.9 280.0 719.8C283.3 719.7 287.4 719.6 290.0 719.6C292.6 719.5 294.0 719.6 295.3 719.4C296.6 719.3 297.0 719.9 297.8 718.8C298.6 717.7 299.6 714.8 300.4 712.9C301.1 711.1 301.6 708.8 302.3 707.4C303.0 706.1 303.8 704.8 304.4 704.8C305.0 704.8 305.6 706.3 306.1 707.4C306.6 708.6 306.9 710.2 307.4 711.5C307.9 712.9 308.4 714.6 309.3 715.6C310.2 716.6 311.8 717.1 313.1 717.6C314.4 718.1 315.6 718.5 316.9 718.8C318.2 719.1 318.4 719.2 320.7 719.3C323.0 719.3 328.3 719.1 330.9 719.1C333.4 719.1 334.7 719.5 336.0 719.4C337.3 719.3 337.7 718.9 338.5 718.6C339.3 718.3 340.0 717.8 340.8 717.9C341.6 717.9 342.4 718.4 343.3 718.7C344.2 718.9 345.2 719.3 346.2 719.4C347.2 719.6 348.0 719.6 349.5 719.6C351.0 719.5 354.0 719.5 355.3 719.1C356.6 718.7 356.8 718.6 357.5 717.3C358.2 716.0 358.9 712.9 359.5 711.3C360.1 709.7 360.8 707.7 361.4 707.8C362.0 707.8 362.6 710.4 363.2 711.9C363.8 713.4 364.0 715.8 364.8 716.7C365.6 717.6 366.9 717.2 368.0 717.2C369.1 717.1 370.0 716.1 371.2 716.2C372.4 716.4 373.8 717.6 375.0 718.1C376.2 718.5 377.1 719.2 378.2 719.1C379.3 718.9 380.4 717.3 381.4 717.2C382.4 717.0 383.4 718.2 384.3 718.4C385.2 718.5 386.0 718.3 387.1 718.1C388.2 717.9 389.7 717.0 390.9 717.2C392.1 717.3 392.8 718.4 394.1 718.8C395.4 719.1 396.9 719.4 398.5 719.1C400.1 718.8 402.1 717.7 403.6 717.2C405.1 716.6 406.4 716.2 407.5 716.0C408.6 715.9 409.5 716.3 410.1 716.2C410.7 716.2 410.7 716.9 411.2 715.9C411.7 714.9 412.4 712.1 413.0 710.2C413.6 708.4 414.3 706.3 415.0 704.6C415.7 702.8 416.3 701.2 417.0 699.7C417.7 698.2 418.3 696.8 419.0 695.7C419.7 694.5 420.4 691.5 421.3 692.7C422.2 694.0 423.1 703.8 424.3 703.1C425.5 702.4 427.3 688.7 428.5 688.5C429.7 688.4 430.5 702.2 431.5 702.2C432.5 702.3 433.6 688.8 434.7 688.7C435.8 688.7 437.0 698.6 438.1 702.1C439.2 705.7 440.5 708.9 441.3 710.1C442.1 711.4 442.4 709.9 443.2 709.7C444.0 709.5 445.4 708.3 446.4 708.7C447.3 709.0 448.0 712.4 448.9 711.8C449.8 711.2 450.9 705.4 451.8 705.3C452.7 705.2 453.1 709.8 454.0 711.1C454.9 712.4 455.9 712.6 457.2 713.2C458.5 713.7 460.1 716.6 461.6 714.6C463.1 712.6 464.8 702.1 466.1 701.1C467.4 700.1 468.4 706.4 469.3 708.4C470.2 710.3 471.2 712.0 471.8 712.8C472.4 713.6 472.3 713.4 473.0 713.2C473.7 712.9 474.9 711.5 475.9 711.6C476.9 711.7 477.5 713.0 478.8 713.5C480.1 714.1 482.4 714.8 483.9 714.9C485.3 715.0 486.5 713.9 487.5 714.0C488.5 714.0 489.1 715.6 490.0 715.1C490.9 714.6 491.8 711.5 492.6 711.2C493.4 710.9 494.0 712.5 494.8 713.2C495.6 713.8 496.3 715.8 497.3 715.4C498.3 715.0 499.2 712.7 500.6 710.8C502.0 708.8 504.1 704.3 505.4 703.6C506.7 702.9 507.3 704.9 508.6 706.5C509.9 708.1 511.9 712.1 513.0 713.2C514.1 714.2 514.0 713.9 515.2 712.8C516.4 711.6 518.7 706.7 520.0 706.2C521.3 705.8 521.7 709.0 523.2 710.0C524.7 711.0 527.4 713.6 529.0 712.4C530.6 711.2 531.5 702.8 532.6 702.6C533.7 702.3 534.4 709.1 535.5 710.8C536.6 712.4 537.9 712.1 539.2 712.5C540.5 712.9 542.8 713.0 543.5 713.2" fill="none" stroke="#f184f1" stroke-width="1.00" stroke-linejoin="round"/><path d="M42.5 783.1C45.4 783.1 50.4 783.1 60.0 783.1C69.6 783.1 88.3 783.1 100.0 783.0C111.7 783.0 123.3 783.0 130.0 783.0C136.7 783.0 137.8 783.0 140.0 783.0C142.2 783.0 141.8 782.9 143.0 782.9C144.2 782.9 145.8 782.9 147.0 782.8C148.2 782.7 149.1 782.5 150.0 782.4C150.9 782.3 151.9 782.0 152.7 782.0C153.5 782.0 154.2 782.4 154.9 782.4C155.6 782.4 156.3 782.0 157.0 782.0C157.7 781.9 158.2 782.1 159.0 782.2C159.8 782.2 161.0 782.3 162.0 782.4C163.0 782.5 164.0 782.5 165.0 782.6C166.0 782.7 166.3 782.9 168.0 782.9C169.7 783.0 169.7 783.0 175.0 783.0C180.3 783.0 194.2 783.0 200.0 783.0C205.8 783.0 208.0 783.0 210.0 783.0C212.0 783.0 211.3 783.0 212.0 783.0C212.7 782.9 213.3 783.0 214.0 782.8C214.7 782.5 215.3 782.0 216.0 781.7C216.7 781.4 217.3 781.0 218.0 780.9C218.7 780.8 219.3 781.1 220.0 781.2C220.7 781.2 221.3 780.9 222.0 781.1C222.7 781.3 223.3 782.2 224.0 782.5C224.7 782.8 225.0 782.9 226.0 783.0C227.0 783.1 228.7 783.0 230.0 783.0C231.3 783.0 232.7 782.9 234.0 782.9C235.3 782.9 234.5 783.0 238.0 783.0C241.5 783.0 249.7 783.0 255.0 783.0C260.3 783.0 265.8 782.9 270.0 782.9C274.2 782.9 276.7 782.9 280.0 782.8C283.3 782.8 287.4 782.8 290.0 782.8C292.6 782.7 294.0 782.8 295.3 782.7C296.6 782.7 297.0 782.9 297.8 782.5C298.6 782.1 299.6 781.0 300.4 780.3C301.1 779.6 301.6 778.8 302.3 778.3C303.0 777.8 303.8 777.3 304.4 777.3C305.0 777.3 305.6 777.8 306.1 778.3C306.6 778.7 306.9 779.3 307.4 779.8C307.9 780.3 308.4 780.9 309.3 781.3C310.2 781.7 311.8 781.8 313.1 782.0C314.4 782.2 315.6 782.4 316.9 782.5C318.2 782.6 318.4 782.6 320.7 782.6C323.0 782.7 328.3 782.6 330.9 782.6C333.4 782.6 334.7 782.7 336.0 782.7C337.3 782.7 337.7 782.5 338.5 782.4C339.3 782.3 340.0 782.1 340.8 782.1C341.6 782.1 342.4 782.3 343.3 782.4C344.2 782.5 345.2 782.6 346.2 782.7C347.2 782.8 348.0 782.8 349.5 782.8C351.0 782.7 354.0 782.7 355.3 782.6C356.6 782.4 356.8 782.4 357.5 781.9C358.2 781.4 358.9 780.3 359.5 779.7C360.1 779.1 360.8 778.3 361.4 778.4C362.0 778.4 362.6 779.3 363.2 779.9C363.8 780.5 364.0 781.4 364.8 781.7C365.6 782.0 366.9 781.9 368.0 781.9C369.1 781.8 370.0 781.5 371.2 781.5C372.4 781.6 373.8 782.0 375.0 782.2C376.2 782.4 377.1 782.6 378.2 782.6C379.3 782.5 380.4 781.9 381.4 781.9C382.4 781.8 383.4 782.3 384.3 782.3C385.2 782.4 386.0 782.3 387.1 782.2C388.2 782.1 389.7 781.8 390.9 781.9C392.1 781.9 392.8 782.3 394.1 782.5C395.4 782.6 396.9 782.7 398.5 782.6C400.1 782.5 402.1 782.1 403.6 781.9C405.1 781.7 406.4 781.5 407.5 781.4C408.6 781.3 409.5 781.5 410.1 781.4C410.7 781.4 410.7 781.7 411.2 781.3C411.7 780.8 412.4 779.7 413.0 778.9C413.6 778.1 414.3 777.3 415.0 776.6C415.7 775.9 416.3 775.2 417.0 774.6C417.7 774.0 418.3 773.5 419.0 773.0C419.7 772.5 420.4 771.3 421.3 771.8C422.2 772.3 423.1 776.3 424.3 776.0C425.5 775.7 427.3 770.1 428.5 770.1C429.7 770.0 430.5 775.6 431.5 775.7C432.5 775.7 433.6 770.2 434.7 770.2C435.8 770.2 437.0 774.2 438.1 775.6C439.2 777.1 440.5 778.3 441.3 778.8C442.1 779.3 442.4 778.6 443.2 778.5C444.0 778.3 445.4 777.7 446.4 777.8C447.3 778.0 448.0 779.5 448.9 779.2C449.8 779.0 450.9 776.4 451.8 776.3C452.7 776.3 453.1 778.3 454.0 778.9C454.9 779.5 455.9 779.6 457.2 779.8C458.5 780.1 460.1 781.4 461.6 780.5C463.1 779.6 464.8 774.9 466.1 774.5C467.4 774.0 468.4 776.8 469.3 777.7C470.2 778.6 471.2 779.3 471.8 779.7C472.4 780.0 472.3 779.9 473.0 779.8C473.7 779.7 474.9 779.1 475.9 779.1C476.9 779.2 477.5 779.8 478.8 780.0C480.1 780.2 482.4 780.6 483.9 780.6C485.3 780.6 486.5 780.2 487.5 780.2C488.5 780.2 489.1 780.9 490.0 780.7C490.9 780.5 491.8 779.1 492.6 779.0C493.4 778.8 494.0 779.5 494.8 779.8C495.6 780.1 496.3 781.0 497.3 780.8C498.3 780.6 499.2 779.7 500.6 778.8C502.0 777.9 504.1 775.9 505.4 775.6C506.7 775.3 507.3 776.2 508.6 776.9C509.9 777.6 511.9 779.4 513.0 779.8C514.1 780.3 514.0 780.2 515.2 779.7C516.4 779.2 518.7 777.0 520.0 776.8C521.3 776.6 521.7 778.0 523.2 778.4C524.7 778.9 527.4 780.1 529.0 779.5C530.6 778.9 531.5 775.3 532.6 775.1C533.7 775.0 534.4 778.0 535.5 778.8C536.6 779.5 537.9 779.4 539.2 779.5C540.5 779.7 542.8 779.8 543.5 779.8" fill="none" stroke="#8a8ad6" stroke-width="1.00" stroke-linejoin="round"/><path d="M42.5 846.6C45.4 846.6 50.4 846.5 60.0 846.5C69.6 846.4 88.3 846.4 100.0 846.4C111.7 846.4 123.3 846.3 130.0 846.2C136.7 846.2 137.8 846.2 140.0 846.2C142.2 846.1 141.8 846.0 143.0 845.9C144.2 845.8 145.8 845.7 147.0 845.5C148.2 845.2 149.1 844.6 150.0 844.2C150.9 843.7 151.9 842.8 152.7 842.8C153.5 842.8 154.2 844.2 154.9 844.2C155.6 844.2 156.3 842.8 157.0 842.6C157.7 842.5 158.2 843.1 159.0 843.3C159.8 843.6 161.0 843.8 162.0 844.0C163.0 844.3 164.0 844.6 165.0 844.9C166.0 845.2 166.3 845.8 168.0 846.0C169.7 846.3 169.7 846.2 175.0 846.2C180.3 846.3 194.2 846.3 200.0 846.3C205.8 846.3 208.0 846.3 210.0 846.2C212.0 846.2 211.3 846.2 212.0 846.1C212.7 846.0 213.3 846.0 214.0 845.8C214.7 845.5 215.3 844.9 216.0 844.6C216.7 844.3 217.3 843.9 218.0 843.9C218.7 843.8 219.3 844.1 220.0 844.1C220.7 844.2 221.3 844.0 222.0 844.2C222.7 844.5 223.3 845.4 224.0 845.7C224.7 846.0 225.0 846.1 226.0 846.2C227.0 846.3 228.7 846.3 230.0 846.2C231.3 846.2 232.7 846.0 234.0 846.0C235.3 846.0 234.5 846.2 238.0 846.2C241.5 846.3 249.7 846.2 255.0 846.2C260.3 846.1 265.8 846.0 270.0 846.0C274.2 845.9 276.7 845.8 280.0 845.7C283.3 845.6 287.4 845.5 290.0 845.4C292.6 845.3 294.0 845.4 295.3 845.2C296.6 845.0 297.0 845.7 297.8 844.3C298.6 842.9 299.6 839.1 300.4 836.7C301.1 834.2 301.6 831.2 302.3 829.4C303.0 827.6 303.8 825.9 304.4 825.9C305.0 825.9 305.6 827.9 306.1 829.4C306.6 830.9 306.9 833.0 307.4 834.8C307.9 836.6 308.4 838.9 309.3 840.2C310.2 841.5 311.8 842.1 313.1 842.8C314.4 843.5 315.6 844.0 316.9 844.3C318.2 844.7 318.4 844.9 320.7 845.0C323.0 845.0 328.3 844.7 330.9 844.8C333.4 844.8 334.7 845.3 336.0 845.2C337.3 845.1 337.7 844.5 338.5 844.1C339.3 843.8 340.0 843.1 340.8 843.1C341.6 843.1 342.4 843.8 343.3 844.2C344.2 844.5 345.2 845.0 346.2 845.2C347.2 845.4 348.0 845.5 349.5 845.4C351.0 845.3 354.0 845.3 355.3 844.8C356.6 844.2 356.8 844.0 357.5 842.3C358.2 840.6 358.9 836.6 359.5 834.5C360.1 832.4 360.8 829.7 361.4 829.8C362.0 830.0 362.6 833.3 363.2 835.2C363.8 837.2 364.0 840.5 364.8 841.6C365.6 842.8 366.9 842.3 368.0 842.2C369.1 842.1 370.0 840.8 371.2 841.0C372.4 841.2 373.8 842.8 375.0 843.4C376.2 844.0 377.1 845.0 378.2 844.8C379.3 844.6 380.4 842.4 381.4 842.2C382.4 842.0 383.4 843.6 384.3 843.8C385.2 844.0 386.0 843.7 387.1 843.4C388.2 843.1 389.7 842.0 390.9 842.2C392.1 842.4 392.8 843.9 394.1 844.3C395.4 844.8 396.9 845.1 398.5 844.8C400.1 844.4 402.1 842.9 403.6 842.2C405.1 841.5 406.4 840.9 407.5 840.6C408.6 840.4 409.5 840.9 410.1 840.8C410.7 840.7 410.7 841.6 411.2 840.2C411.7 838.8 412.4 835.0 413.0 832.4C413.6 829.7 414.3 826.9 415.0 824.5C415.7 822.0 416.3 819.8 417.0 817.7C417.7 815.7 418.3 813.7 419.0 812.1C419.7 810.5 420.4 806.3 421.3 808.1C422.2 809.8 423.1 823.4 424.3 822.5C425.5 821.5 427.3 802.4 428.5 802.2C429.7 802.0 430.5 821.2 431.5 821.2C432.5 821.3 433.6 802.5 434.7 802.5C435.8 802.5 437.0 816.2 438.1 821.1C439.2 826.0 440.5 830.4 441.3 832.2C442.1 833.9 442.4 831.9 443.2 831.5C444.0 831.1 445.4 829.5 446.4 830.0C447.3 830.4 448.0 835.2 448.9 834.4C449.8 833.6 450.9 825.3 451.8 825.2C452.7 825.0 453.1 831.5 454.0 833.4C454.9 835.2 455.9 835.5 457.2 836.3C458.5 837.1 460.1 841.1 461.6 838.2C463.1 835.4 464.8 820.8 466.1 819.3C467.4 817.9 468.4 826.8 469.3 829.5C470.2 832.2 471.2 834.7 471.8 835.8C472.4 836.9 472.3 836.6 473.0 836.3C473.7 836.0 474.9 834.0 475.9 834.1C476.9 834.1 477.5 836.0 478.8 836.8C480.1 837.6 482.4 838.6 483.9 838.7C485.3 838.8 486.5 837.4 487.5 837.4C488.5 837.5 489.1 839.6 490.0 839.0C490.9 838.4 491.8 834.0 492.6 833.5C493.4 833.1 494.0 835.3 494.8 836.3C495.6 837.2 496.3 839.9 497.3 839.4C498.3 838.8 499.2 835.7 500.6 832.9C502.0 830.2 504.1 823.8 505.4 822.8C506.7 821.8 507.3 824.6 508.6 826.8C509.9 829.1 511.9 834.8 513.0 836.3C514.1 837.7 514.0 837.4 515.2 835.7C516.4 834.1 518.7 827.2 520.0 826.5C521.3 825.9 521.7 830.4 523.2 831.9C524.7 833.3 527.4 836.9 529.0 835.2C530.6 833.5 531.5 821.7 532.6 821.4C533.7 821.0 534.4 830.6 535.5 832.9C536.6 835.3 537.9 834.8 539.2 835.4C540.5 835.9 542.8 836.1 543.5 836.3" fill="none" stroke="#7cc67c" stroke-width="1.00" stroke-linejoin="round"/><line x1="94.5" y1="847.2" x2="94.5" y2="849.0" stroke="#444" stroke-width="0.7"/><text x="94.5" y="856.4" font-family="'Liberation Sans', Arial, sans-serif" font-size="7.4" text-anchor="middle" fill="#111" stroke="#111" stroke-width="0.25">3500</text><line x1="147.9" y1="847.2" x2="147.9" y2="849.0" stroke="#444" stroke-width="0.7"/><text x="147.9" y="856.4" font-family="'Liberation Sans', Arial, sans-serif" font-size="7.4" text-anchor="middle" fill="#111" stroke="#111" stroke-width="0.25">3000</text><line x1="201.2" y1="847.2" x2="201.2" y2="849.0" stroke="#444" stroke-width="0.7"/><text x="201.2" y="856.4" font-family="'Liberation Sans', Arial, sans-serif" font-size="7.4" text-anchor="middle" fill="#111" stroke="#111" stroke-width="0.25">2500</text><line x1="254.5" y1="847.2" x2="254.5" y2="849.0" stroke="#444" stroke-width="0.7"/><text x="254.5" y="856.4" font-family="'Liberation Sans', Arial, sans-serif" font-size="7.4" text-anchor="middle" fill="#111" stroke="#111" stroke-width="0.25">2000</text><line x1="361.1" y1="847.2" x2="361.1" y2="849.0" stroke="#444" stroke-width="0.7"/><text x="361.1" y="856.4" font-family="'Liberation Sans', Arial, sans-serif" font-size="7.4" text-anchor="middle" fill="#111" stroke="#111" stroke-width="0.25">1500</text><line x1="468.1" y1="847.2" x2="468.1" y2="849.0" stroke="#444" stroke-width="0.7"/><text x="468.1" y="856.4" font-family="'Liberation Sans', Arial, sans-serif" font-size="7.4" text-anchor="middle" fill="#111" stroke="#111" stroke-width="0.25">1000</text><text x="293.3" y="867.4" font-family="'Liberation Sans', Arial, sans-serif" font-size="7.6" text-anchor="middle" fill="#111" stroke="#111" stroke-width="0.25">Wavenumbers (cm-1)</text><text transform="translate(149.0 470.4) rotate(-90)" font-family="'Liberation Serif', 'Times New Roman', serif" font-size="9.8" fill="#111" stroke="#111" stroke-width="0.25">3000</text><text transform="translate(171.7 470.4) rotate(-90)" font-family="'Liberation Serif', 'Times New Roman', serif" font-size="9.8" fill="#111" stroke="#111" stroke-width="0.25">2800</text><text transform="translate(212.2 470.4) rotate(-90)" font-family="'Liberation Serif', 'Times New Roman', serif" font-size="9.8" fill="#111" stroke="#111" stroke-width="0.25">2400</text><text transform="translate(227.8 470.4) rotate(-90)" font-family="'Liberation Serif', 'Times New Roman', serif" font-size="9.8" fill="#111" stroke="#111" stroke-width="0.25">2300</text><text transform="translate(235.4 470.4) rotate(-90)" font-family="'Liberation Serif', 'Times New Roman', serif" font-size="9.8" fill="#111" stroke="#111" stroke-width="0.25">2236</text><text transform="translate(309.3 470.4) rotate(-90)" font-family="'Liberation Serif', 'Times New Roman', serif" font-size="9.8" fill="#111" stroke="#111" stroke-width="0.25">1770</text><text transform="translate(365.8 470.4) rotate(-90)" font-family="'Liberation Serif', 'Times New Roman', serif" font-size="9.8" fill="#111" stroke="#111" stroke-width="0.25">1501</text><text transform="translate(405.0 470.4) rotate(-90)" font-family="'Liberation Serif', 'Times New Roman', serif" font-size="9.8" fill="#111" stroke="#111" stroke-width="0.25">1338</text><text transform="translate(423.6 470.4) rotate(-90)" font-family="'Liberation Serif', 'Times New Roman', serif" font-size="9.8" fill="#111" stroke="#111" stroke-width="0.25">1221</text><text transform="translate(432.1 470.4) rotate(-90)" font-family="'Liberation Serif', 'Times New Roman', serif" font-size="9.8" fill="#111" stroke="#111" stroke-width="0.25">1188</text><text transform="translate(481.6 470.4) rotate(-90)" font-family="'Liberation Serif', 'Times New Roman', serif" font-size="9.8" fill="#111" stroke="#111" stroke-width="0.25">965</text><text transform="translate(494.5 470.4) rotate(-90)" font-family="'Liberation Serif', 'Times New Roman', serif" font-size="9.8" fill="#111" stroke="#111" stroke-width="0.25">912</text><text x="156.3" y="511.0" font-family="'Liberation Serif', 'Times New Roman', serif" font-size="10.3" font-weight="bold" text-anchor="middle" fill="#111">C-H</text><text x="238.2" y="524.3" font-family="'Liberation Serif', 'Times New Roman', serif" font-size="10.3" font-weight="bold" text-anchor="middle" fill="#111">C≡N</text><text x="306.0" y="558.1" font-family="'Liberation Serif', 'Times New Roman', serif" font-size="10.3" font-weight="bold" text-anchor="middle" fill="#111">C=O</text><text x="360.8" y="609.0" font-family="'Liberation Serif', 'Times New Roman', serif" font-size="10.3" font-weight="bold" text-anchor="middle" fill="#111">C-C</text><text x="360.5" y="632.8" font-family="'Liberation Serif', 'Times New Roman', serif" font-size="10.3" font-weight="bold" text-anchor="middle" fill="#111">aromatic</text><text x="425.3" y="522.3" font-family="'Liberation Serif', 'Times New Roman', serif" font-size="10.3" font-weight="bold" text-anchor="middle" fill="#111">C-H</text><text x="482.2" y="557.8" font-family="'Liberation Serif', 'Times New Roman', serif" font-size="10.3" font-weight="bold" text-anchor="middle" fill="#111">C-H</text><text x="208" y="641.9" font-family="'Liberation Serif', 'Times New Roman', serif" font-size="10.3" font-weight="bold" fill="#111">CO<tspan font-size="5.5" dy="0.8">2</tspan></text></svg></body></html>
